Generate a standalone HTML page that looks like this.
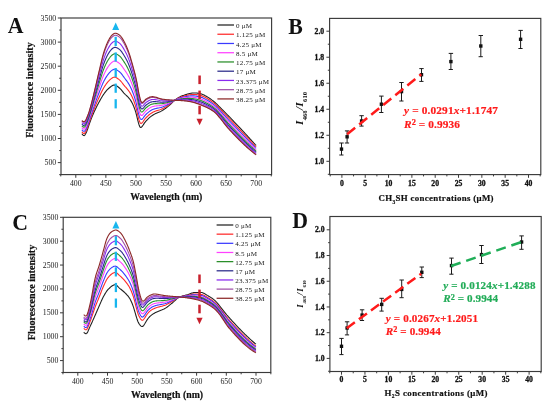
<!DOCTYPE html>
<html><head><meta charset="utf-8"><style>
html,body{margin:0;padding:0;background:#fff;width:550px;height:411px;overflow:hidden}
svg{display:block;font-family:"Liberation Serif", serif;will-change:transform}
</style></head><body>
<svg width="550" height="411" viewBox="0 0 550 411">
<text transform="translate(7.8,32.6) scale(0.95,1)" font-size="23" font-weight="bold" fill="#111">A</text>
<text transform="translate(288.2,33.6) scale(0.95,1)" font-size="23" font-weight="bold" fill="#111">B</text>
<text transform="translate(12.2,230.4) scale(0.95,1)" font-size="23" font-weight="bold" fill="#111">C</text>
<text transform="translate(292.2,228.2) scale(0.95,1)" font-size="23" font-weight="bold" fill="#111">D</text>
<polyline points="81.81,133.75 82.42,134.44 83.02,135.13 83.62,135.56 84.22,135.6 84.82,135.17 85.42,134.28 86.02,133.07 86.63,131.69 87.23,130.17 87.83,128.48 88.43,126.68 89.03,124.86 89.63,123.13 90.23,121.5 90.83,119.92 91.44,118.38 92.04,116.88 92.64,115.4 93.24,113.97 93.84,112.58 94.44,111.24 95.04,109.94 95.65,108.68 96.25,107.45 96.85,106.25 97.45,105.09 98.05,103.95 98.65,102.83 99.25,101.73 99.86,100.64 100.46,99.56 101.06,98.5 101.66,97.47 102.26,96.47 102.86,95.51 103.46,94.6 104.07,93.74 104.67,92.93 105.27,92.14 105.87,91.38 106.47,90.66 107.07,89.97 107.67,89.34 108.28,88.77 108.88,88.24 109.48,87.74 110.08,87.25 110.68,86.77 111.28,86.32 111.88,85.91 112.49,85.56 113.09,85.29 113.69,85.12 114.29,85.06 114.89,85.12 115.49,85.29 116.09,85.56 116.7,85.91 117.3,86.32 117.9,86.77 118.5,87.25 119.1,87.74 119.7,88.25 120.3,88.8 120.91,89.41 121.51,90.1 122.11,90.82 122.71,91.57 123.31,92.31 123.91,93.02 124.51,93.69 125.11,94.31 125.72,94.9 126.32,95.45 126.92,96.01 127.52,96.58 128.12,97.17 128.72,97.82 129.32,98.53 129.93,99.31 130.53,100.17 131.13,101.11 131.73,102.14 132.33,103.28 132.93,104.53 133.53,105.92 134.14,107.44 134.74,109.1 135.34,110.89 135.94,112.89 136.54,115.18 137.14,117.7 137.74,120.2 138.35,122.47 138.95,124.46 139.55,126.11 140.15,127.16 140.75,127.49 141.35,127.26 141.95,126.69 142.56,125.91 143.16,125.02 143.76,124.08 144.36,123.18 144.96,122.36 145.56,121.64 146.16,120.96 146.77,120.31 147.37,119.67 147.97,119.05 148.57,118.46 149.17,117.89 149.77,117.37 150.37,116.88 150.97,116.42 151.58,115.99 152.18,115.58 152.78,115.19 153.38,114.82 153.98,114.47 154.58,114.13 155.18,113.81 155.79,113.51 156.39,113.23 156.99,112.98 157.59,112.73 158.19,112.49 158.79,112.25 159.39,112 160,111.73 160.6,111.44 161.2,111.12 161.8,110.78 162.4,110.43 163,110.06 163.6,109.68 164.21,109.28 164.81,108.87 165.41,108.45 166.01,108.02 166.61,107.57 167.21,107.1 167.81,106.61 168.42,106.11 169.02,105.6 169.62,105.08 170.22,104.54 170.82,103.99 171.42,103.4 172.02,102.79 172.63,102.17 173.23,101.57 173.83,101.01 174.43,100.49 175.03,100.02 175.63,99.58 176.23,99.15 176.84,98.73 177.44,98.33 178.04,97.95 178.64,97.58 179.24,97.24 179.84,96.91 180.44,96.61 181.05,96.34 181.65,96.08 182.25,95.85 182.85,95.64 183.45,95.42 184.05,95.21 184.65,95 185.25,94.8 185.86,94.6 186.46,94.4 187.06,94.22 187.66,94.04 188.26,93.87 188.86,93.71 189.46,93.57 190.07,93.43 190.67,93.32 191.27,93.21 191.87,93.12 192.47,93.05 193.07,93 193.67,92.97 194.28,92.96 194.88,92.97 195.48,92.99 196.08,93.02 196.68,93.07 197.28,93.13 197.88,93.2 198.49,93.27 199.09,93.35 199.69,93.45 200.29,93.57 200.89,93.72 201.49,93.92 202.09,94.15 202.7,94.42 203.3,94.71 203.9,95.01 204.5,95.34 205.1,95.67 205.7,96.01 206.3,96.35 206.91,96.68 207.51,97.03 208.11,97.39 208.71,97.76 209.31,98.16 209.91,98.56 210.51,98.98 211.12,99.41 211.72,99.86 212.32,100.32 212.92,100.78 213.52,101.26 214.12,101.75 214.72,102.25 215.32,102.77 215.93,103.31 216.53,103.89 217.13,104.48 217.73,105.09 218.33,105.7 218.93,106.3 219.53,106.9 220.14,107.49 220.74,108.09 221.34,108.69 221.94,109.29 222.54,109.89 223.14,110.49 223.74,111.1 224.35,111.7 224.95,112.31 225.55,112.92 226.15,113.53 226.75,114.14 227.35,114.76 227.95,115.38 228.56,116 229.16,116.62 229.76,117.24 230.36,117.86 230.96,118.49 231.56,119.12 232.16,119.74 232.77,120.37 233.37,121 233.97,121.63 234.57,122.26 235.17,122.89 235.77,123.52 236.37,124.15 236.98,124.79 237.58,125.42 238.18,126.06 238.78,126.69 239.38,127.33 239.98,127.97 240.58,128.61 241.19,129.25 241.79,129.89 242.39,130.54 242.99,131.18 243.59,131.83 244.19,132.48 244.79,133.12 245.39,133.77 246,134.42 246.6,135.07 247.2,135.73 247.8,136.38 248.4,137.04 249,137.69 249.6,138.35 250.21,139.01 250.81,139.67 251.41,140.33 252.01,141 252.61,141.66 253.21,142.33 253.81,143 254.42,143.67 255.02,144.33 255.62,144.96 256.22,145.42" fill="none" stroke="#222222" stroke-width="1.1" stroke-linejoin="round"/>
<polyline points="81.81,131.75 82.42,132.39 83.02,133.04 83.62,133.43 84.22,133.46 84.82,133.05 85.42,132.18 86.02,130.99 86.63,129.63 87.23,128.13 87.83,126.47 88.43,124.69 89.03,122.88 89.63,121.11 90.23,119.41 90.83,117.75 91.44,116.1 92.04,114.47 92.64,112.85 93.24,111.26 93.84,109.71 94.44,108.18 95.04,106.69 95.65,105.23 96.25,103.79 96.85,102.38 97.45,100.99 98.05,99.63 98.65,98.29 99.25,96.96 99.86,95.65 100.46,94.35 101.06,93.06 101.66,91.8 102.26,90.57 102.86,89.41 103.46,88.31 104.07,87.28 104.67,86.31 105.27,85.38 105.87,84.49 106.47,83.64 107.07,82.84 107.67,82.1 108.28,81.43 108.88,80.81 109.48,80.22 110.08,79.65 110.68,79.11 111.28,78.61 111.88,78.16 112.49,77.78 113.09,77.48 113.69,77.27 114.29,77.17 114.89,77.19 115.49,77.33 116.09,77.57 116.7,77.89 117.3,78.28 117.9,78.71 118.5,79.17 119.1,79.64 119.7,80.14 120.3,80.69 120.91,81.31 121.51,82.01 122.11,82.76 122.71,83.54 123.31,84.33 123.91,85.1 124.51,85.83 125.11,86.54 125.72,87.22 126.32,87.9 126.92,88.58 127.52,89.29 128.12,90.03 128.72,90.83 129.32,91.7 129.93,92.65 130.53,93.68 131.13,94.79 131.73,95.99 132.33,97.27 132.93,98.66 133.53,100.17 134.14,101.8 134.74,103.55 135.34,105.44 135.94,107.52 136.54,109.88 137.14,112.48 137.74,115.13 138.35,117.58 138.95,119.75 139.55,121.56 140.15,122.81 140.75,123.39 141.35,123.39 141.95,122.99 142.56,122.32 143.16,121.5 143.76,120.62 144.36,119.75 144.96,118.95 145.56,118.25 146.16,117.61 146.77,116.99 147.37,116.4 147.97,115.83 148.57,115.27 149.17,114.75 149.77,114.27 150.37,113.82 150.97,113.41 151.58,113.03 152.18,112.68 152.78,112.35 153.38,112.05 153.98,111.76 154.58,111.5 155.18,111.25 155.79,111.02 156.39,110.81 156.99,110.62 157.59,110.44 158.19,110.27 158.79,110.1 159.39,109.91 160,109.71 160.6,109.49 161.2,109.25 161.8,108.98 162.4,108.7 163,108.4 163.6,108.09 164.21,107.77 164.81,107.43 165.41,107.09 166.01,106.73 166.61,106.36 167.21,105.97 167.81,105.57 168.42,105.16 169.02,104.73 169.62,104.3 170.22,103.85 170.82,103.39 171.42,102.9 172.02,102.39 172.63,101.87 173.23,101.37 173.83,100.9 174.43,100.47 175.03,100.07 175.63,99.7 176.23,99.34 176.84,98.99 177.44,98.66 178.04,98.34 178.64,98.03 179.24,97.74 179.84,97.47 180.44,97.22 181.05,96.99 181.65,96.78 182.25,96.59 182.85,96.41 183.45,96.23 184.05,96.06 184.65,95.89 185.25,95.73 185.86,95.57 186.46,95.42 187.06,95.28 187.66,95.14 188.26,95.01 188.86,94.9 189.46,94.79 190.07,94.69 190.67,94.61 191.27,94.54 191.87,94.49 192.47,94.45 193.07,94.43 193.67,94.42 194.28,94.44 194.88,94.47 195.48,94.52 196.08,94.58 196.68,94.65 197.28,94.73 197.88,94.82 198.49,94.92 199.09,95.02 199.69,95.14 200.29,95.27 200.89,95.44 201.49,95.64 202.09,95.88 202.7,96.14 203.3,96.42 203.9,96.72 204.5,97.04 205.1,97.36 205.7,97.69 206.3,98.02 206.91,98.35 207.51,98.69 208.11,99.04 208.71,99.41 209.31,99.78 209.91,100.18 210.51,100.59 211.12,101.01 211.72,101.44 212.32,101.89 212.92,102.34 213.52,102.81 214.12,103.29 214.72,103.79 215.32,104.31 215.93,104.85 216.53,105.44 217.13,106.04 217.73,106.66 218.33,107.29 218.93,107.91 219.53,108.52 220.14,109.14 220.74,109.76 221.34,110.38 221.94,111 222.54,111.63 223.14,112.26 223.74,112.89 224.35,113.52 224.95,114.15 225.55,114.78 226.15,115.42 226.75,116.05 227.35,116.68 227.95,117.31 228.56,117.94 229.16,118.57 229.76,119.2 230.36,119.83 230.96,120.46 231.56,121.08 232.16,121.71 232.77,122.34 233.37,122.97 233.97,123.6 234.57,124.23 235.17,124.86 235.77,125.5 236.37,126.13 236.98,126.76 237.58,127.39 238.18,128.02 238.78,128.65 239.38,129.29 239.98,129.92 240.58,130.55 241.19,131.19 241.79,131.82 242.39,132.45 242.99,133.09 243.59,133.72 244.19,134.36 244.79,134.99 245.39,135.63 246,136.26 246.6,136.9 247.2,137.53 247.8,138.17 248.4,138.8 249,139.44 249.6,140.08 250.21,140.71 250.81,141.35 251.41,141.99 252.01,142.62 252.61,143.26 253.21,143.9 253.81,144.54 254.42,145.18 255.02,145.81 255.62,146.4 256.22,146.84" fill="none" stroke="#ff2a2a" stroke-width="1.1" stroke-linejoin="round"/>
<polyline points="81.81,129.74 82.42,130.34 83.02,130.94 83.62,131.3 84.22,131.32 84.82,130.92 85.42,130.08 86.02,128.91 86.63,127.57 87.23,126.08 87.83,124.45 88.43,122.71 89.03,120.9 89.63,119.1 90.23,117.32 90.83,115.57 91.44,113.82 92.04,112.06 92.64,110.3 93.24,108.55 93.84,106.83 94.44,105.13 95.04,103.45 95.65,101.79 96.25,100.14 96.85,98.51 97.45,96.9 98.05,95.31 98.65,93.74 99.25,92.2 99.86,90.67 100.46,89.14 101.06,87.62 101.66,86.12 102.26,84.68 102.86,83.31 103.46,82.02 104.07,80.83 104.67,79.7 105.27,78.62 105.87,77.59 106.47,76.62 107.07,75.71 107.67,74.87 108.28,74.09 108.88,73.38 109.48,72.7 110.08,72.06 110.68,71.45 111.28,70.9 111.88,70.41 112.49,70 113.09,69.66 113.69,69.41 114.29,69.28 114.89,69.26 115.49,69.37 116.09,69.58 116.7,69.87 117.3,70.24 117.9,70.64 118.5,71.09 119.1,71.55 119.7,72.03 120.3,72.58 120.91,73.21 121.51,73.93 122.11,74.71 122.71,75.52 123.31,76.35 123.91,77.17 124.51,77.97 125.11,78.76 125.72,79.54 126.32,80.34 126.92,81.15 127.52,81.99 128.12,82.88 128.72,83.84 129.32,84.87 129.93,85.99 130.53,87.19 131.13,88.47 131.73,89.83 132.33,91.26 132.93,92.79 133.53,94.42 134.14,96.15 134.74,98 135.34,99.98 135.94,102.14 136.54,104.58 137.14,107.27 137.74,110.06 138.35,112.7 138.95,115.04 139.55,117.01 140.15,118.46 140.75,119.28 141.35,119.52 141.95,119.29 142.56,118.73 143.16,117.99 143.76,117.15 144.36,116.32 144.96,115.55 145.56,114.86 146.16,114.25 146.77,113.68 147.37,113.13 147.97,112.6 148.57,112.09 149.17,111.62 149.77,111.17 150.37,110.77 150.97,110.41 151.58,110.08 152.18,109.78 152.78,109.52 153.38,109.28 153.98,109.06 154.58,108.86 155.18,108.68 155.79,108.52 156.39,108.39 156.99,108.27 157.59,108.16 158.19,108.05 158.79,107.94 159.39,107.83 160,107.7 160.6,107.55 161.2,107.37 161.8,107.18 162.4,106.97 163,106.75 163.6,106.51 164.21,106.26 164.81,106 165.41,105.73 166.01,105.45 166.61,105.15 167.21,104.85 167.81,104.53 168.42,104.2 169.02,103.86 169.62,103.52 170.22,103.16 170.82,102.79 171.42,102.4 172.02,101.99 172.63,101.57 173.23,101.16 173.83,100.78 174.43,100.44 175.03,100.13 175.63,99.83 176.23,99.54 176.84,99.26 177.44,98.98 178.04,98.72 178.64,98.48 179.24,98.24 179.84,98.02 180.44,97.82 181.05,97.64 181.65,97.47 182.25,97.32 182.85,97.18 183.45,97.05 184.05,96.92 184.65,96.79 185.25,96.67 185.86,96.55 186.46,96.44 187.06,96.34 187.66,96.24 188.26,96.15 188.86,96.08 189.46,96.01 190.07,95.95 190.67,95.9 191.27,95.87 191.87,95.85 192.47,95.84 193.07,95.85 193.67,95.87 194.28,95.92 194.88,95.98 195.48,96.05 196.08,96.14 196.68,96.23 197.28,96.34 197.88,96.45 198.49,96.57 199.09,96.69 199.69,96.83 200.29,96.98 200.89,97.16 201.49,97.36 202.09,97.6 202.7,97.86 203.3,98.13 203.9,98.43 204.5,98.73 205.1,99.05 205.7,99.37 206.3,99.69 206.91,100.02 207.51,100.35 208.11,100.69 208.71,101.05 209.31,101.41 209.91,101.8 210.51,102.19 211.12,102.6 211.72,103.02 212.32,103.45 212.92,103.9 213.52,104.36 214.12,104.84 214.72,105.33 215.32,105.84 215.93,106.39 216.53,106.99 217.13,107.61 217.73,108.24 218.33,108.88 218.93,109.52 219.53,110.15 220.14,110.78 220.74,111.42 221.34,112.07 221.94,112.71 222.54,113.37 223.14,114.02 223.74,114.68 224.35,115.33 224.95,115.99 225.55,116.65 226.15,117.3 226.75,117.95 227.35,118.6 227.95,119.25 228.56,119.89 229.16,120.52 229.76,121.16 230.36,121.79 230.96,122.42 231.56,123.05 232.16,123.69 232.77,124.32 233.37,124.95 233.97,125.58 234.57,126.21 235.17,126.84 235.77,127.47 236.37,128.1 236.98,128.73 237.58,129.36 238.18,129.99 238.78,130.61 239.38,131.24 239.98,131.87 240.58,132.49 241.19,133.12 241.79,133.74 242.39,134.37 242.99,134.99 243.59,135.61 244.19,136.24 244.79,136.86 245.39,137.48 246,138.1 246.6,138.72 247.2,139.34 247.8,139.95 248.4,140.57 249,141.19 249.6,141.8 250.21,142.41 250.81,143.03 251.41,143.64 252.01,144.25 252.61,144.86 253.21,145.47 253.81,146.08 254.42,146.68 255.02,147.29 255.62,147.85 256.22,148.26" fill="none" stroke="#3a3aff" stroke-width="1.1" stroke-linejoin="round"/>
<polyline points="81.81,127.67 82.42,128.22 83.02,128.77 83.62,129.1 84.22,129.11 84.82,128.72 85.42,127.91 86.02,126.77 86.63,125.43 87.23,123.97 87.83,122.37 88.43,120.65 89.03,118.85 89.63,117.01 90.23,115.17 90.83,113.32 91.44,111.46 92.04,109.57 92.64,107.67 93.24,105.76 93.84,103.85 94.44,101.97 95.04,100.1 95.65,98.23 96.25,96.37 96.85,94.51 97.45,92.67 98.05,90.85 98.65,89.05 99.25,87.28 99.86,85.52 100.46,83.75 101.06,82 101.66,80.27 102.26,78.6 102.86,77.01 103.46,75.53 104.07,74.16 104.67,72.87 105.27,71.64 105.87,70.48 106.47,69.37 107.07,68.34 107.67,67.39 108.28,66.52 108.88,65.71 109.48,64.94 110.08,64.21 110.68,63.54 111.28,62.93 111.88,62.41 112.49,61.97 113.09,61.59 113.69,61.31 114.29,61.12 114.89,61.07 115.49,61.15 116.09,61.33 116.7,61.6 117.3,61.93 117.9,62.32 118.5,62.74 119.1,63.18 119.7,63.66 120.3,64.2 120.91,64.84 121.51,65.58 122.11,66.38 122.71,67.24 123.31,68.11 123.91,68.98 124.51,69.85 125.11,70.72 125.72,71.62 126.32,72.53 126.92,73.48 127.52,74.47 128.12,75.51 128.72,76.62 129.32,77.82 129.93,79.11 130.53,80.49 131.13,81.94 131.73,83.47 132.33,85.06 132.93,86.73 133.53,88.48 134.14,90.32 134.74,92.27 135.34,94.35 135.94,96.6 136.54,99.1 137.14,101.89 137.74,104.83 138.35,107.65 138.95,110.18 139.55,112.31 140.15,113.96 140.75,115.04 141.35,115.53 141.95,115.47 142.56,115.03 143.16,114.36 143.76,113.58 144.36,112.78 144.96,112.03 145.56,111.37 146.16,110.79 146.77,110.26 147.37,109.76 147.97,109.27 148.57,108.81 149.17,108.38 149.77,107.98 150.37,107.62 150.97,107.3 151.58,107.03 152.18,106.79 152.78,106.59 153.38,106.42 153.98,106.27 154.58,106.14 155.18,106.04 155.79,105.95 156.39,105.88 156.99,105.83 157.59,105.79 158.19,105.76 158.79,105.72 159.39,105.67 160,105.61 160.6,105.54 161.2,105.44 161.8,105.33 162.4,105.19 163,105.04 163.6,104.87 164.21,104.7 164.81,104.51 165.41,104.32 166.01,104.12 166.61,103.91 167.21,103.68 167.81,103.45 168.42,103.21 169.02,102.96 169.62,102.71 170.22,102.45 170.82,102.17 171.42,101.88 172.02,101.57 172.63,101.26 173.23,100.96 173.83,100.67 174.43,100.41 175.03,100.18 175.63,99.95 176.23,99.74 176.84,99.52 177.44,99.32 178.04,99.12 178.64,98.94 179.24,98.76 179.84,98.6 180.44,98.45 181.05,98.31 181.65,98.19 182.25,98.08 182.85,97.98 183.45,97.89 184.05,97.8 184.65,97.71 185.25,97.63 185.86,97.56 186.46,97.49 187.06,97.43 187.66,97.38 188.26,97.33 188.86,97.3 189.46,97.27 190.07,97.25 190.67,97.24 191.27,97.24 191.87,97.25 192.47,97.28 193.07,97.31 193.67,97.37 194.28,97.44 194.88,97.53 195.48,97.63 196.08,97.74 196.68,97.86 197.28,97.99 197.88,98.13 198.49,98.27 199.09,98.42 199.69,98.57 200.29,98.74 200.89,98.93 201.49,99.14 202.09,99.38 202.7,99.63 203.3,99.91 203.9,100.19 204.5,100.49 205.1,100.79 205.7,101.1 206.3,101.42 206.91,101.74 207.51,102.06 208.11,102.39 208.71,102.74 209.31,103.1 209.91,103.47 210.51,103.85 211.12,104.24 211.72,104.65 212.32,105.07 212.92,105.51 213.52,105.96 214.12,106.43 214.72,106.91 215.32,107.43 215.93,107.99 216.53,108.59 217.13,109.22 217.73,109.87 218.33,110.52 218.93,111.18 219.53,111.83 220.14,112.48 220.74,113.14 221.34,113.81 221.94,114.48 222.54,115.16 223.14,115.84 223.74,116.52 224.35,117.21 224.95,117.89 225.55,118.57 226.15,119.25 226.75,119.92 227.35,120.58 227.95,121.24 228.56,121.9 229.16,122.54 229.76,123.18 230.36,123.82 230.96,124.45 231.56,125.09 232.16,125.72 232.77,126.36 233.37,126.99 233.97,127.62 234.57,128.25 235.17,128.88 235.77,129.51 236.37,130.14 236.98,130.76 237.58,131.39 238.18,132.01 238.78,132.64 239.38,133.26 239.98,133.88 240.58,134.5 241.19,135.11 241.79,135.73 242.39,136.34 242.99,136.96 243.59,137.57 244.19,138.18 244.79,138.79 245.39,139.39 246,140 246.6,140.6 247.2,141.2 247.8,141.8 248.4,142.39 249,142.99 249.6,143.58 250.21,144.17 250.81,144.76 251.41,145.35 252.01,145.93 252.61,146.51 253.21,147.09 253.81,147.67 254.42,148.24 255.02,148.81 255.62,149.34 256.22,149.73" fill="none" stroke="#ff40ff" stroke-width="1.1" stroke-linejoin="round"/>
<polyline points="81.81,125.82 82.42,126.33 83.02,126.84 83.62,127.13 84.22,127.14 84.82,126.76 85.42,125.97 86.02,124.86 86.63,123.53 87.23,122.08 87.83,120.51 88.43,118.82 89.03,117.02 89.63,115.15 90.23,113.24 90.83,111.31 91.44,109.35 92.04,107.35 92.64,105.32 93.24,103.26 93.84,101.2 94.44,99.15 95.04,97.1 95.65,95.05 96.25,93 96.85,90.94 97.45,88.9 98.05,86.87 98.65,84.87 99.25,82.89 99.86,80.92 100.46,78.95 101.06,76.98 101.66,75.04 102.26,73.17 102.86,71.39 103.46,69.74 104.07,68.21 104.67,66.77 105.27,65.41 105.87,64.12 106.47,62.91 107.07,61.77 107.67,60.72 108.28,59.76 108.88,58.86 109.48,58.01 110.08,57.21 110.68,56.48 111.28,55.83 111.88,55.27 112.49,54.8 113.09,54.39 113.69,54.07 114.29,53.85 114.89,53.76 115.49,53.81 116.09,53.97 116.7,54.21 117.3,54.52 117.9,54.89 118.5,55.29 119.1,55.72 119.7,56.19 120.3,56.73 120.91,57.38 121.51,58.13 122.11,58.96 122.71,59.84 123.31,60.75 123.91,61.67 124.51,62.6 125.11,63.56 125.72,64.54 126.32,65.56 126.92,66.63 127.52,67.75 128.12,68.92 128.72,70.18 129.32,71.53 129.93,72.98 130.53,74.51 131.13,76.12 131.73,77.79 132.33,79.52 132.93,81.31 133.53,83.17 134.14,85.12 134.74,87.16 135.34,89.32 135.94,91.64 136.54,94.22 137.14,97.09 137.74,100.15 138.35,103.15 138.95,105.84 139.55,108.12 140.15,109.95 140.75,111.26 141.35,111.96 141.95,112.06 142.56,111.72 143.16,111.12 143.76,110.39 144.36,109.62 144.96,108.89 145.56,108.25 146.16,107.69 146.77,107.2 147.37,106.74 147.97,106.3 148.57,105.88 149.17,105.48 149.77,105.12 150.37,104.81 150.97,104.53 151.58,104.3 152.18,104.12 152.78,103.98 153.38,103.86 153.98,103.78 154.58,103.72 155.18,103.67 155.79,103.65 156.39,103.65 156.99,103.66 157.59,103.68 158.19,103.71 158.79,103.73 159.39,103.75 160,103.76 160.6,103.75 161.2,103.72 161.8,103.67 162.4,103.6 163,103.51 163.6,103.41 164.21,103.3 164.81,103.19 165.41,103.06 166.01,102.93 166.61,102.79 167.21,102.65 167.81,102.49 168.42,102.33 169.02,102.16 169.62,101.99 170.22,101.81 170.82,101.62 171.42,101.42 172.02,101.2 172.63,100.98 173.23,100.77 173.83,100.57 174.43,100.39 175.03,100.22 175.63,100.07 176.23,99.91 176.84,99.76 177.44,99.62 178.04,99.48 178.64,99.35 179.24,99.22 179.84,99.11 180.44,99.01 181.05,98.91 181.65,98.83 182.25,98.76 182.85,98.69 183.45,98.63 184.05,98.58 184.65,98.53 185.25,98.49 185.86,98.46 186.46,98.43 187.06,98.41 187.66,98.39 188.26,98.39 188.86,98.39 189.46,98.4 190.07,98.41 190.67,98.44 191.27,98.47 191.87,98.51 192.47,98.56 193.07,98.63 193.67,98.71 194.28,98.8 194.88,98.92 195.48,99.04 196.08,99.18 196.68,99.32 197.28,99.47 197.88,99.63 198.49,99.79 199.09,99.96 199.69,100.13 200.29,100.31 200.89,100.51 201.49,100.73 202.09,100.97 202.7,101.22 203.3,101.48 203.9,101.76 204.5,102.05 205.1,102.35 205.7,102.65 206.3,102.96 206.91,103.27 207.51,103.59 208.11,103.92 208.71,104.25 209.31,104.6 209.91,104.96 210.51,105.33 211.12,105.71 211.72,106.11 212.32,106.52 212.92,106.95 213.52,107.39 214.12,107.85 214.72,108.33 215.32,108.84 215.93,109.4 216.53,110.01 217.13,110.66 217.73,111.32 218.33,111.99 218.93,112.66 219.53,113.32 220.14,114 220.74,114.68 221.34,115.37 221.94,116.06 222.54,116.76 223.14,117.47 223.74,118.17 224.35,118.88 224.95,119.58 225.55,120.29 226.15,120.98 226.75,121.67 227.35,122.35 227.95,123.03 228.56,123.69 229.16,124.34 229.76,124.99 230.36,125.63 230.96,126.27 231.56,126.9 232.16,127.54 232.77,128.18 233.37,128.81 233.97,129.44 234.57,130.07 235.17,130.7 235.77,131.33 236.37,131.96 236.98,132.58 237.58,133.2 238.18,133.82 238.78,134.44 239.38,135.06 239.98,135.67 240.58,136.29 241.19,136.9 241.79,137.5 242.39,138.11 242.99,138.71 243.59,139.31 244.19,139.91 244.79,140.51 245.39,141.1 246,141.69 246.6,142.28 247.2,142.86 247.8,143.44 248.4,144.02 249,144.6 249.6,145.17 250.21,145.74 250.81,146.31 251.41,146.87 252.01,147.43 252.61,147.99 253.21,148.54 253.81,149.09 254.42,149.63 255.02,150.17 255.62,150.67 256.22,151.04" fill="none" stroke="#2a8f2a" stroke-width="1.1" stroke-linejoin="round"/>
<polyline points="81.81,124.2 82.42,124.67 83.02,125.14 83.62,125.41 84.22,125.4 84.82,125.04 85.42,124.27 86.02,123.17 86.63,121.86 87.23,120.42 87.83,118.88 88.43,117.22 89.03,115.42 89.63,113.51 90.23,111.55 90.83,109.55 91.44,107.5 92.04,105.4 92.64,103.25 93.24,101.06 93.84,98.87 94.44,96.67 95.04,94.47 95.65,92.26 96.25,90.03 96.85,87.8 97.45,85.58 98.05,83.37 98.65,81.18 99.25,79.03 99.86,76.88 100.46,74.72 101.06,72.57 101.66,70.44 102.26,68.39 102.86,66.45 103.46,64.64 104.07,62.97 104.67,61.41 105.27,59.94 105.87,58.54 106.47,57.22 107.07,55.99 107.67,54.86 108.28,53.81 108.88,52.84 109.48,51.92 110.08,51.06 110.68,50.27 111.28,49.58 111.88,48.99 112.49,48.49 113.09,48.06 113.69,47.7 114.29,47.45 114.89,47.34 115.49,47.36 116.09,47.49 116.7,47.71 117.3,48.01 117.9,48.35 118.5,48.74 119.1,49.16 119.7,49.62 120.3,50.16 120.91,50.81 121.51,51.57 122.11,52.43 122.71,53.34 123.31,54.29 123.91,55.25 124.51,56.23 125.11,57.25 125.72,58.32 126.32,59.44 126.92,60.61 127.52,61.84 128.12,63.13 128.72,64.51 129.32,65.99 129.93,67.58 130.53,69.25 131.13,71 131.73,72.8 132.33,74.66 132.93,76.56 133.53,78.51 134.14,80.54 134.74,82.66 135.34,84.9 135.94,87.29 136.54,89.92 137.14,92.86 137.74,96.05 138.35,99.19 138.95,102.02 139.55,104.43 140.15,106.43 140.75,107.93 141.35,108.82 141.95,109.07 142.56,108.81 143.16,108.27 143.76,107.58 144.36,106.84 144.96,106.13 145.56,105.5 146.16,104.97 146.77,104.52 147.37,104.09 147.97,103.69 148.57,103.3 149.17,102.94 149.77,102.62 150.37,102.33 150.97,102.1 151.58,101.91 152.18,101.77 152.78,101.68 153.38,101.62 153.98,101.59 154.58,101.58 155.18,101.6 155.79,101.63 156.39,101.68 156.99,101.75 157.59,101.83 158.19,101.91 158.79,101.99 159.39,102.06 160,102.12 160.6,102.17 161.2,102.2 161.8,102.21 162.4,102.2 163,102.17 163.6,102.13 164.21,102.08 164.81,102.02 165.41,101.96 166.01,101.89 166.61,101.82 167.21,101.74 167.81,101.65 168.42,101.56 169.02,101.46 169.62,101.35 170.22,101.25 170.82,101.13 171.42,101.01 172.02,100.88 172.63,100.74 173.23,100.6 173.83,100.48 174.43,100.37 175.03,100.26 175.63,100.17 176.23,100.07 176.84,99.98 177.44,99.88 178.04,99.79 178.64,99.71 179.24,99.63 179.84,99.56 180.44,99.5 181.05,99.44 181.65,99.39 182.25,99.35 182.85,99.32 183.45,99.29 184.05,99.27 184.65,99.26 185.25,99.25 185.86,99.25 186.46,99.25 187.06,99.27 187.66,99.29 188.26,99.31 188.86,99.35 189.46,99.39 190.07,99.43 190.67,99.48 191.27,99.54 191.87,99.61 192.47,99.69 193.07,99.78 193.67,99.88 194.28,100 194.88,100.14 195.48,100.28 196.08,100.44 196.68,100.6 197.28,100.77 197.88,100.95 198.49,101.13 199.09,101.31 199.69,101.5 200.29,101.69 200.89,101.9 201.49,102.13 202.09,102.36 202.7,102.61 203.3,102.87 203.9,103.15 204.5,103.43 205.1,103.72 205.7,104.01 206.3,104.31 206.91,104.62 207.51,104.93 208.11,105.25 208.71,105.58 209.31,105.92 209.91,106.27 210.51,106.63 211.12,107 211.72,107.39 212.32,107.79 212.92,108.21 213.52,108.64 214.12,109.1 214.72,109.58 215.32,110.09 215.93,110.65 216.53,111.27 217.13,111.92 217.73,112.6 218.33,113.28 218.93,113.96 219.53,114.64 220.14,115.33 220.74,116.03 221.34,116.73 221.94,117.45 222.54,118.17 223.14,118.9 223.74,119.62 224.35,120.35 224.95,121.07 225.55,121.79 226.15,122.51 226.75,123.22 227.35,123.91 227.95,124.6 228.56,125.27 229.16,125.92 229.76,126.57 230.36,127.22 230.96,127.86 231.56,128.5 232.16,129.14 232.77,129.78 233.37,130.41 233.97,131.04 234.57,131.68 235.17,132.31 235.77,132.93 236.37,133.56 236.98,134.18 237.58,134.8 238.18,135.42 238.78,136.03 239.38,136.64 239.98,137.25 240.58,137.86 241.19,138.46 241.79,139.06 242.39,139.66 242.99,140.26 243.59,140.85 244.19,141.44 244.79,142.02 245.39,142.6 246,143.18 246.6,143.75 247.2,144.32 247.8,144.89 248.4,145.45 249,146.01 249.6,146.57 250.21,147.12 250.81,147.67 251.41,148.21 252.01,148.75 252.61,149.28 253.21,149.81 253.81,150.34 254.42,150.86 255.02,151.37 255.62,151.84 256.22,152.2" fill="none" stroke="#2a2a8a" stroke-width="1.1" stroke-linejoin="round"/>
<polyline points="81.81,122.65 82.42,123.09 83.02,123.52 83.62,123.76 84.22,123.75 84.82,123.4 85.42,122.65 86.02,121.57 86.63,120.27 87.23,118.84 87.83,117.32 88.43,115.68 89.03,113.89 89.63,111.95 90.23,109.94 90.83,107.87 91.44,105.74 92.04,103.55 92.64,101.28 93.24,98.97 93.84,96.64 94.44,94.31 95.04,91.97 95.65,89.6 96.25,87.22 96.85,84.82 97.45,82.42 98.05,80.04 98.65,77.68 99.25,75.35 99.86,73.03 100.46,70.7 101.06,68.37 101.66,66.07 102.26,63.85 102.86,61.74 103.46,59.79 104.07,57.99 104.67,56.31 105.27,54.72 105.87,53.22 106.47,51.81 107.07,50.49 107.67,49.27 108.28,48.15 108.88,47.11 109.48,46.12 110.08,45.2 110.68,44.36 111.28,43.63 111.88,43.02 112.49,42.49 113.09,42.03 113.69,41.65 114.29,41.37 114.89,41.22 115.49,41.22 116.09,41.33 116.7,41.53 117.3,41.8 117.9,42.13 118.5,42.51 119.1,42.91 119.7,43.36 120.3,43.9 120.91,44.56 121.51,45.34 122.11,46.21 122.71,47.15 123.31,48.13 123.91,49.13 124.51,50.17 125.11,51.25 125.72,52.4 126.32,53.61 126.92,54.88 127.52,56.21 128.12,57.62 128.72,59.12 129.32,60.73 129.93,62.44 130.53,64.25 131.13,66.12 131.73,68.05 132.33,70.02 132.93,72.03 133.53,74.08 134.14,76.19 134.74,78.38 135.34,80.69 135.94,83.14 136.54,85.83 137.14,88.85 137.74,92.14 138.35,95.42 138.95,98.39 139.55,100.92 140.15,103.07 140.75,104.77 141.35,105.84 141.95,106.22 142.56,106.05 143.16,105.56 143.76,104.91 144.36,104.2 144.96,103.5 145.56,102.89 146.16,102.38 146.77,101.96 147.37,101.57 147.97,101.2 148.57,100.85 149.17,100.52 149.77,100.23 150.37,99.98 150.97,99.78 151.58,99.63 152.18,99.54 152.78,99.49 153.38,99.48 153.98,99.5 154.58,99.55 155.18,99.62 155.79,99.71 156.39,99.82 156.99,99.93 157.59,100.06 158.19,100.19 158.79,100.33 159.39,100.45 160,100.57 160.6,100.67 161.2,100.76 161.8,100.82 162.4,100.87 163,100.89 163.6,100.9 164.21,100.91 164.81,100.91 165.41,100.91 166.01,100.9 166.61,100.89 167.21,100.87 167.81,100.84 168.42,100.82 169.02,100.79 169.62,100.75 170.22,100.71 170.82,100.67 171.42,100.62 172.02,100.56 172.63,100.51 173.23,100.45 173.83,100.39 174.43,100.35 175.03,100.3 175.63,100.26 176.23,100.22 176.84,100.18 177.44,100.13 178.04,100.09 178.64,100.05 179.24,100.02 179.84,99.99 180.44,99.96 181.05,99.94 181.65,99.93 182.25,99.92 182.85,99.92 183.45,99.92 184.05,99.93 184.65,99.95 185.25,99.97 185.86,100 186.46,100.04 187.06,100.08 187.66,100.14 188.26,100.19 188.86,100.26 189.46,100.33 190.07,100.4 190.67,100.48 191.27,100.57 191.87,100.66 192.47,100.76 193.07,100.87 193.67,101 194.28,101.14 194.88,101.3 195.48,101.46 196.08,101.64 196.68,101.82 197.28,102.01 197.88,102.2 198.49,102.4 199.09,102.6 199.69,102.8 200.29,103.01 200.89,103.23 201.49,103.45 202.09,103.69 202.7,103.94 203.3,104.2 203.9,104.46 204.5,104.74 205.1,105.02 205.7,105.31 206.3,105.6 206.91,105.9 207.51,106.21 208.11,106.53 208.71,106.85 209.31,107.18 209.91,107.52 210.51,107.87 211.12,108.23 211.72,108.61 212.32,109 212.92,109.41 213.52,109.84 214.12,110.29 214.72,110.76 215.32,111.27 215.93,111.84 216.53,112.46 217.13,113.13 217.73,113.81 218.33,114.51 218.93,115.2 219.53,115.89 220.14,116.6 220.74,117.31 221.34,118.04 221.94,118.77 222.54,119.51 223.14,120.26 223.74,121 224.35,121.75 224.95,122.49 225.55,123.23 226.15,123.96 226.75,124.68 227.35,125.39 227.95,126.09 228.56,126.77 229.16,127.43 229.76,128.08 230.36,128.73 230.96,129.38 231.56,130.02 232.16,130.66 232.77,131.3 233.37,131.94 233.97,132.57 234.57,133.2 235.17,133.83 235.77,134.46 236.37,135.08 236.98,135.7 237.58,136.32 238.18,136.93 238.78,137.54 239.38,138.15 239.98,138.75 240.58,139.36 241.19,139.95 241.79,140.55 242.39,141.14 242.99,141.72 243.59,142.31 244.19,142.89 244.79,143.46 245.39,144.03 246,144.6 246.6,145.16 247.2,145.72 247.8,146.27 248.4,146.82 249,147.36 249.6,147.9 250.21,148.43 250.81,148.96 251.41,149.48 252.01,150 252.61,150.51 253.21,151.02 253.81,151.52 254.42,152.02 255.02,152.51 255.62,152.96 256.22,153.29" fill="none" stroke="#8a2af0" stroke-width="1.1" stroke-linejoin="round"/>
<polyline points="81.81,121.16 82.42,121.57 83.02,121.96 83.62,122.18 84.22,122.16 84.82,121.81 85.42,121.09 86.02,120.02 86.63,118.73 87.23,117.31 87.83,115.82 88.43,114.2 89.03,112.41 89.63,110.45 90.23,108.38 90.83,106.25 91.44,104.04 92.04,101.75 92.64,99.38 93.24,96.95 93.84,94.5 94.44,92.03 95.04,89.55 95.65,87.04 96.25,84.49 96.85,81.93 97.45,79.37 98.05,76.82 98.65,74.3 99.25,71.8 99.86,69.32 100.46,66.82 101.06,64.31 101.66,61.84 102.26,59.46 102.86,57.2 103.46,55.1 104.07,53.18 104.67,51.38 105.27,49.69 105.87,48.08 106.47,46.58 107.07,45.17 107.67,43.88 108.28,42.69 108.88,41.57 109.48,40.52 110.08,39.54 110.68,38.66 111.28,37.89 111.88,37.25 112.49,36.7 113.09,36.21 113.69,35.8 114.29,35.49 114.89,35.31 115.49,35.28 116.09,35.37 116.7,35.56 117.3,35.81 117.9,36.13 118.5,36.48 119.1,36.88 119.7,37.32 120.3,37.86 120.91,38.52 121.51,39.31 122.11,40.21 122.71,41.18 123.31,42.19 123.91,43.23 124.51,44.31 125.11,45.46 125.72,46.68 126.32,47.98 126.92,49.34 127.52,50.78 128.12,52.3 128.72,53.91 129.32,55.64 129.93,57.48 130.53,59.41 131.13,61.41 131.73,63.46 132.33,65.55 132.93,67.65 133.53,69.79 134.14,71.98 134.74,74.25 135.34,76.62 135.94,79.14 136.54,81.88 137.14,84.96 137.74,88.36 138.35,91.78 138.95,94.88 139.55,97.53 140.15,99.83 140.75,101.71 141.35,102.96 141.95,103.46 142.56,103.37 143.16,102.94 143.76,102.33 144.36,101.65 144.96,100.97 145.56,100.37 146.16,99.88 146.77,99.49 147.37,99.14 147.97,98.8 148.57,98.48 149.17,98.18 149.77,97.92 150.37,97.7 150.97,97.54 151.58,97.43 152.18,97.38 152.78,97.38 153.38,97.42 153.98,97.49 154.58,97.59 155.18,97.71 155.79,97.85 156.39,98.01 156.99,98.18 157.59,98.36 158.19,98.54 158.79,98.72 159.39,98.9 160,99.07 160.6,99.22 161.2,99.36 161.8,99.48 162.4,99.58 163,99.66 163.6,99.72 164.21,99.78 164.81,99.84 165.41,99.89 166.01,99.94 166.61,99.99 167.21,100.03 167.81,100.07 168.42,100.11 169.02,100.14 169.62,100.17 170.22,100.2 170.82,100.22 171.42,100.25 172.02,100.27 172.63,100.28 173.23,100.3 173.83,100.31 174.43,100.33 175.03,100.34 175.63,100.35 176.23,100.36 176.84,100.37 177.44,100.38 178.04,100.38 178.64,100.39 179.24,100.39 179.84,100.4 180.44,100.41 181.05,100.43 181.65,100.44 182.25,100.47 182.85,100.49 183.45,100.53 184.05,100.56 184.65,100.61 185.25,100.67 185.86,100.73 186.46,100.8 187.06,100.87 187.66,100.96 188.26,101.04 188.86,101.14 189.46,101.24 190.07,101.34 190.67,101.45 191.27,101.56 191.87,101.68 192.47,101.8 193.07,101.93 193.67,102.08 194.28,102.24 194.88,102.42 195.48,102.6 196.08,102.79 196.68,103 197.28,103.2 197.88,103.41 198.49,103.63 199.09,103.84 199.69,104.06 200.29,104.28 200.89,104.5 201.49,104.74 202.09,104.98 202.7,105.22 203.3,105.47 203.9,105.73 204.5,106 205.1,106.28 205.7,106.56 206.3,106.85 206.91,107.15 207.51,107.45 208.11,107.76 208.71,108.07 209.31,108.39 209.91,108.72 210.51,109.06 211.12,109.42 211.72,109.79 212.32,110.17 212.92,110.57 213.52,110.99 214.12,111.44 214.72,111.91 215.32,112.42 215.93,112.99 216.53,113.62 217.13,114.29 217.73,114.99 218.33,115.69 218.93,116.4 219.53,117.11 220.14,117.82 220.74,118.55 221.34,119.29 221.94,120.05 222.54,120.81 223.14,121.57 223.74,122.34 224.35,123.1 224.95,123.86 225.55,124.62 226.15,125.37 226.75,126.1 227.35,126.82 227.95,127.53 228.56,128.22 229.16,128.89 229.76,129.54 230.36,130.19 230.96,130.84 231.56,131.49 232.16,132.13 232.77,132.77 233.37,133.41 233.97,134.04 234.57,134.67 235.17,135.3 235.77,135.93 236.37,136.55 236.98,137.17 237.58,137.78 238.18,138.39 238.78,139 239.38,139.61 239.98,140.21 240.58,140.8 241.19,141.39 241.79,141.98 242.39,142.56 242.99,143.14 243.59,143.72 244.19,144.29 244.79,144.85 245.39,145.41 246,145.97 246.6,146.52 247.2,147.06 247.8,147.6 248.4,148.13 249,148.66 249.6,149.18 250.21,149.7 250.81,150.21 251.41,150.71 252.01,151.21 252.61,151.71 253.21,152.19 253.81,152.67 254.42,153.15 255.02,153.61 255.62,154.04 256.22,154.35" fill="none" stroke="#a050a8" stroke-width="1.1" stroke-linejoin="round"/>
<polyline points="81.81,120.65 82.42,121.04 83.02,121.43 83.62,121.63 84.22,121.61 84.82,121.27 85.42,120.55 86.02,119.49 86.63,118.2 87.23,116.79 87.83,115.31 88.43,113.7 89.03,111.9 89.63,109.93 90.23,107.85 90.83,105.69 91.44,103.46 92.04,101.14 92.64,98.73 93.24,96.26 93.84,93.77 94.44,91.25 95.04,88.72 95.65,86.16 96.25,83.56 96.85,80.95 97.45,78.33 98.05,75.72 98.65,73.14 99.25,70.59 99.86,68.04 100.46,65.49 101.06,62.93 101.66,60.4 102.26,57.95 102.86,55.64 103.46,53.5 104.07,51.53 104.67,49.7 105.27,47.97 105.87,46.33 106.47,44.79 107.07,43.36 107.67,42.03 108.28,40.82 108.88,39.68 109.48,38.6 110.08,37.6 110.68,36.7 111.28,35.92 111.88,35.27 112.49,34.71 113.09,34.22 113.69,33.8 114.29,33.48 114.89,33.29 115.49,33.25 116.09,33.34 116.7,33.51 117.3,33.76 117.9,34.07 118.5,34.42 119.1,34.82 119.7,35.26 120.3,35.79 120.91,36.46 121.51,37.25 122.11,38.16 122.71,39.13 123.31,40.15 123.91,41.21 124.51,42.31 125.11,43.47 125.72,44.72 126.32,46.05 126.92,47.45 127.52,48.92 128.12,50.48 128.72,52.13 129.32,53.9 129.93,55.78 130.53,57.76 131.13,59.8 131.73,61.9 132.33,64.02 132.93,66.16 133.53,68.32 134.14,70.54 134.74,72.83 135.34,75.23 135.94,77.77 136.54,80.53 137.14,83.63 137.74,87.07 138.35,90.54 138.95,93.68 139.55,96.37 140.15,98.72 140.75,100.66 141.35,101.97 141.95,102.52 142.56,102.46 143.16,102.05 143.76,101.45 144.36,100.77 144.96,100.1 145.56,99.5 146.16,99.03 146.77,98.65 147.37,98.3 147.97,97.97 148.57,97.67 149.17,97.38 149.77,97.13 150.37,96.93 150.97,96.77 151.58,96.68 152.18,96.64 152.78,96.66 153.38,96.71 153.98,96.8 154.58,96.92 155.18,97.06 155.79,97.22 156.39,97.39 156.99,97.58 157.59,97.77 158.19,97.97 158.79,98.17 159.39,98.37 160,98.55 160.6,98.73 161.2,98.88 161.8,99.02 162.4,99.14 163,99.24 163.6,99.32 164.21,99.4 164.81,99.47 165.41,99.54 166.01,99.61 166.61,99.68 167.21,99.74 167.81,99.8 168.42,99.86 169.02,99.92 169.62,99.97 170.22,100.02 170.82,100.07 171.42,100.12 172.02,100.16 172.63,100.21 173.23,100.25 173.83,100.28 174.43,100.32 175.03,100.35 175.63,100.38 176.23,100.41 176.84,100.44 177.44,100.46 178.04,100.48 178.64,100.5 179.24,100.52 179.84,100.54 180.44,100.57 181.05,100.59 181.65,100.62 182.25,100.65 182.85,100.69 183.45,100.73 184.05,100.78 184.65,100.84 185.25,100.9 185.86,100.98 186.46,101.06 187.06,101.14 187.66,101.24 188.26,101.34 188.86,101.44 189.46,101.55 190.07,101.66 190.67,101.78 191.27,101.9 191.87,102.02 192.47,102.15 193.07,102.3 193.67,102.45 194.28,102.62 194.88,102.8 195.48,102.99 196.08,103.19 196.68,103.4 197.28,103.61 197.88,103.83 198.49,104.05 199.09,104.27 199.69,104.49 200.29,104.71 200.89,104.94 201.49,105.18 202.09,105.41 202.7,105.66 203.3,105.91 203.9,106.17 204.5,106.43 205.1,106.71 205.7,106.99 206.3,107.27 206.91,107.57 207.51,107.87 208.11,108.18 208.71,108.49 209.31,108.81 209.91,109.13 210.51,109.47 211.12,109.82 211.72,110.19 212.32,110.57 212.92,110.97 213.52,111.39 214.12,111.83 214.72,112.3 215.32,112.81 215.93,113.38 216.53,114.01 217.13,114.69 217.73,115.39 218.33,116.1 218.93,116.81 219.53,117.52 220.14,118.24 220.74,118.98 221.34,119.72 221.94,120.48 222.54,121.25 223.14,122.02 223.74,122.79 224.35,123.56 224.95,124.33 225.55,125.09 226.15,125.85 226.75,126.59 227.35,127.31 227.95,128.02 228.56,128.71 229.16,129.38 229.76,130.04 230.36,130.69 230.96,131.34 231.56,131.99 232.16,132.63 232.77,133.27 233.37,133.91 233.97,134.55 234.57,135.18 235.17,135.81 235.77,136.43 236.37,137.05 236.98,137.67 237.58,138.29 238.18,138.9 238.78,139.5 239.38,140.1 239.98,140.7 240.58,141.3 241.19,141.89 241.79,142.47 242.39,143.05 242.99,143.63 243.59,144.2 244.19,144.77 244.79,145.33 245.39,145.88 246,146.43 246.6,146.98 247.2,147.52 247.8,148.05 248.4,148.58 249,149.1 249.6,149.62 250.21,150.13 250.81,150.64 251.41,151.14 252.01,151.63 252.61,152.11 253.21,152.59 253.81,153.06 254.42,153.53 255.02,153.99 255.62,154.41 256.22,154.71" fill="none" stroke="#8c2828" stroke-width="1.1" stroke-linejoin="round"/>
<line x1="115.7" y1="99.2" x2="115.7" y2="108.4" stroke="#18b6ee" stroke-width="2.3"/>
<line x1="115.7" y1="83.6" x2="115.7" y2="92.8" stroke="#18b6ee" stroke-width="2.3"/>
<line x1="115.7" y1="68" x2="115.7" y2="77.2" stroke="#18b6ee" stroke-width="2.3"/>
<line x1="115.7" y1="52.4" x2="115.7" y2="61.6" stroke="#18b6ee" stroke-width="2.3"/>
<line x1="115.7" y1="36.8" x2="115.7" y2="46" stroke="#18b6ee" stroke-width="2.3"/>
<polygon points="112.2,30.1 119.2,30.1 115.7,22.6" fill="#18b6ee"/>
<line x1="199.6" y1="75.5" x2="199.6" y2="84.1" stroke="#c8202c" stroke-width="2.5"/>
<line x1="199.6" y1="90.6" x2="199.6" y2="99.2" stroke="#c8202c" stroke-width="2.5"/>
<line x1="199.6" y1="105.7" x2="199.6" y2="114.3" stroke="#c8202c" stroke-width="2.5"/>
<polygon points="196.5,118.8 202.7,118.8 199.6,125.3" fill="#c8202c"/>
<line x1="217.4" y1="25" x2="234" y2="25" stroke="#222222" stroke-width="1.25"/>
<text x="235.9" y="28.1" font-size="7.05" letter-spacing="0.24" fill="#1a1a1a">0 μM</text>
<line x1="217.4" y1="34.24" x2="234" y2="34.24" stroke="#ff2a2a" stroke-width="1.25"/>
<text x="235.9" y="37.34" font-size="7.05" letter-spacing="0.24" fill="#1a1a1a">1.125 μM</text>
<line x1="217.4" y1="43.48" x2="234" y2="43.48" stroke="#3a3aff" stroke-width="1.25"/>
<text x="235.9" y="46.58" font-size="7.05" letter-spacing="0.24" fill="#1a1a1a">4.25 μM</text>
<line x1="217.4" y1="52.72" x2="234" y2="52.72" stroke="#ff40ff" stroke-width="1.25"/>
<text x="235.9" y="55.82" font-size="7.05" letter-spacing="0.24" fill="#1a1a1a">8.5 μM</text>
<line x1="217.4" y1="61.96" x2="234" y2="61.96" stroke="#2a8f2a" stroke-width="1.25"/>
<text x="235.9" y="65.06" font-size="7.05" letter-spacing="0.24" fill="#1a1a1a">12.75 μM</text>
<line x1="217.4" y1="71.2" x2="234" y2="71.2" stroke="#2a2a8a" stroke-width="1.25"/>
<text x="235.9" y="74.3" font-size="7.05" letter-spacing="0.24" fill="#1a1a1a">17 μM</text>
<line x1="217.4" y1="80.44" x2="234" y2="80.44" stroke="#8a2af0" stroke-width="1.25"/>
<text x="235.9" y="83.54" font-size="7.05" letter-spacing="0.24" fill="#1a1a1a">23.375 μM</text>
<line x1="217.4" y1="89.68" x2="234" y2="89.68" stroke="#a050a8" stroke-width="1.25"/>
<text x="235.9" y="92.78" font-size="7.05" letter-spacing="0.24" fill="#1a1a1a">28.75 μM</text>
<line x1="217.4" y1="98.92" x2="234" y2="98.92" stroke="#8c2828" stroke-width="1.25"/>
<text x="235.9" y="102.02" font-size="7.05" letter-spacing="0.24" fill="#1a1a1a">38.25 μM</text>
<rect x="61" y="18" width="210.6" height="156.6" fill="none" stroke="#3a3a3a" stroke-width="1.15"/>
<line x1="57.8" y1="162.6" x2="61" y2="162.6" stroke="#3a3a3a" stroke-width="1"/>
<text x="56.2" y="165.1" font-size="7.8" text-anchor="end" fill="#222">500</text>
<line x1="57.8" y1="138.5" x2="61" y2="138.5" stroke="#3a3a3a" stroke-width="1"/>
<text x="56.2" y="141" font-size="7.8" text-anchor="end" fill="#222">1000</text>
<line x1="57.8" y1="114.4" x2="61" y2="114.4" stroke="#3a3a3a" stroke-width="1"/>
<text x="56.2" y="116.9" font-size="7.8" text-anchor="end" fill="#222">1500</text>
<line x1="57.8" y1="90.3" x2="61" y2="90.3" stroke="#3a3a3a" stroke-width="1"/>
<text x="56.2" y="92.8" font-size="7.8" text-anchor="end" fill="#222">2000</text>
<line x1="57.8" y1="66.2" x2="61" y2="66.2" stroke="#3a3a3a" stroke-width="1"/>
<text x="56.2" y="68.7" font-size="7.8" text-anchor="end" fill="#222">2500</text>
<line x1="57.8" y1="42.1" x2="61" y2="42.1" stroke="#3a3a3a" stroke-width="1"/>
<text x="56.2" y="44.6" font-size="7.8" text-anchor="end" fill="#222">3000</text>
<line x1="57.8" y1="18" x2="61" y2="18" stroke="#3a3a3a" stroke-width="1"/>
<text x="56.2" y="20.5" font-size="7.8" text-anchor="end" fill="#222">3500</text>
<line x1="59.2" y1="174.65" x2="61" y2="174.65" stroke="#3a3a3a" stroke-width="1"/>
<line x1="59.2" y1="150.55" x2="61" y2="150.55" stroke="#3a3a3a" stroke-width="1"/>
<line x1="59.2" y1="126.45" x2="61" y2="126.45" stroke="#3a3a3a" stroke-width="1"/>
<line x1="59.2" y1="102.35" x2="61" y2="102.35" stroke="#3a3a3a" stroke-width="1"/>
<line x1="59.2" y1="78.25" x2="61" y2="78.25" stroke="#3a3a3a" stroke-width="1"/>
<line x1="59.2" y1="54.15" x2="61" y2="54.15" stroke="#3a3a3a" stroke-width="1"/>
<line x1="59.2" y1="30.05" x2="61" y2="30.05" stroke="#3a3a3a" stroke-width="1"/>
<line x1="75.8" y1="174.6" x2="75.8" y2="177.79999999999998" stroke="#3a3a3a" stroke-width="1"/>
<text x="75.8" y="185.9" font-size="7.8" text-anchor="middle" fill="#222">400</text>
<line x1="105.87" y1="174.6" x2="105.87" y2="177.79999999999998" stroke="#3a3a3a" stroke-width="1"/>
<text x="105.87" y="185.9" font-size="7.8" text-anchor="middle" fill="#222">450</text>
<line x1="135.94" y1="174.6" x2="135.94" y2="177.79999999999998" stroke="#3a3a3a" stroke-width="1"/>
<text x="135.94" y="185.9" font-size="7.8" text-anchor="middle" fill="#222">500</text>
<line x1="166.01" y1="174.6" x2="166.01" y2="177.79999999999998" stroke="#3a3a3a" stroke-width="1"/>
<text x="166.01" y="185.9" font-size="7.8" text-anchor="middle" fill="#222">550</text>
<line x1="196.08" y1="174.6" x2="196.08" y2="177.79999999999998" stroke="#3a3a3a" stroke-width="1"/>
<text x="196.08" y="185.9" font-size="7.8" text-anchor="middle" fill="#222">600</text>
<line x1="226.15" y1="174.6" x2="226.15" y2="177.79999999999998" stroke="#3a3a3a" stroke-width="1"/>
<text x="226.15" y="185.9" font-size="7.8" text-anchor="middle" fill="#222">650</text>
<line x1="256.22" y1="174.6" x2="256.22" y2="177.79999999999998" stroke="#3a3a3a" stroke-width="1"/>
<text x="256.22" y="185.9" font-size="7.8" text-anchor="middle" fill="#222">700</text>
<line x1="60.77" y1="174.6" x2="60.77" y2="176.4" stroke="#3a3a3a" stroke-width="1"/>
<line x1="90.83" y1="174.6" x2="90.83" y2="176.4" stroke="#3a3a3a" stroke-width="1"/>
<line x1="120.91" y1="174.6" x2="120.91" y2="176.4" stroke="#3a3a3a" stroke-width="1"/>
<line x1="150.97" y1="174.6" x2="150.97" y2="176.4" stroke="#3a3a3a" stroke-width="1"/>
<line x1="181.05" y1="174.6" x2="181.05" y2="176.4" stroke="#3a3a3a" stroke-width="1"/>
<line x1="211.12" y1="174.6" x2="211.12" y2="176.4" stroke="#3a3a3a" stroke-width="1"/>
<line x1="241.19" y1="174.6" x2="241.19" y2="176.4" stroke="#3a3a3a" stroke-width="1"/>
<line x1="271.25" y1="174.6" x2="271.25" y2="176.4" stroke="#3a3a3a" stroke-width="1"/>
<text transform="translate(32.6,90) rotate(-90)" font-size="10.1" font-weight="bold" text-anchor="middle" fill="#111" stroke="#111" stroke-width="0.2">Fluorescence intensity</text>
<text x="166.3" y="199.9" font-size="9.8" font-weight="bold" text-anchor="middle" fill="#111" stroke="#111" stroke-width="0.2">Wavelength (nm)</text>
<polyline points="83.74,332.27 84.33,332.79 84.93,333.3 85.52,333.62 86.12,333.67 86.71,333.37 87.3,332.63 87.9,331.48 88.49,330.11 89.09,328.71 89.68,327.38 90.27,326.11 90.87,324.83 91.46,323.53 92.06,322.21 92.65,320.88 93.24,319.55 93.84,318.21 94.43,316.87 95.03,315.52 95.62,314.16 96.21,312.8 96.81,311.43 97.4,310.07 98,308.71 98.59,307.36 99.18,306.01 99.78,304.64 100.37,303.27 100.97,301.89 101.56,300.53 102.15,299.22 102.75,297.97 103.34,296.8 103.94,295.7 104.53,294.66 105.12,293.64 105.72,292.67 106.31,291.75 106.91,290.9 107.5,290.13 108.09,289.45 108.69,288.84 109.28,288.28 109.88,287.73 110.47,287.2 111.06,286.69 111.66,286.22 112.25,285.79 112.85,285.42 113.44,285.12 114.03,284.89 114.63,284.75 115.22,284.73 115.82,284.87 116.41,285.19 117,285.66 117.6,286.23 118.19,286.86 118.79,287.47 119.38,288.04 119.97,288.56 120.57,289.05 121.16,289.52 121.76,290 122.35,290.48 122.94,290.98 123.54,291.48 124.13,292.01 124.73,292.57 125.32,293.15 125.91,293.75 126.51,294.36 127.1,295.01 127.7,295.69 128.29,296.42 128.88,297.21 129.48,298.08 130.07,299.06 130.67,300.16 131.26,301.41 131.85,302.78 132.45,304.26 133.04,305.87 133.64,307.65 134.23,309.6 134.82,311.66 135.42,313.72 136.01,315.72 136.61,317.67 137.2,319.55 137.79,321.24 138.39,322.6 138.98,323.64 139.58,324.5 140.17,325.25 140.76,325.86 141.36,326.3 141.95,326.53 142.55,326.45 143.14,326.02 143.73,325.33 144.33,324.48 144.92,323.55 145.52,322.53 146.11,321.49 146.7,320.51 147.3,319.61 147.89,318.78 148.49,318 149.08,317.28 149.67,316.65 150.27,316.09 150.86,315.58 151.46,315.11 152.05,314.67 152.64,314.26 153.24,313.88 153.83,313.51 154.43,313.16 155.02,312.83 155.61,312.51 156.21,312.22 156.8,311.94 157.4,311.68 157.99,311.43 158.58,311.19 159.18,310.95 159.77,310.72 160.37,310.5 160.96,310.27 161.55,310.03 162.15,309.79 162.74,309.53 163.34,309.27 163.93,308.98 164.52,308.67 165.12,308.34 165.71,307.99 166.31,307.6 166.9,307.2 167.49,306.77 168.09,306.32 168.68,305.86 169.28,305.38 169.87,304.9 170.46,304.42 171.06,303.94 171.65,303.46 172.25,302.97 172.84,302.48 173.43,301.96 174.03,301.42 174.62,300.86 175.22,300.3 175.81,299.74 176.4,299.2 177,298.69 177.59,298.21 178.19,297.78 178.78,297.41 179.37,297.09 179.97,296.83 180.56,296.6 181.16,296.4 181.75,296.21 182.34,296.03 182.94,295.87 183.53,295.72 184.13,295.57 184.72,295.43 185.31,295.29 185.91,295.14 186.5,294.99 187.1,294.83 187.69,294.66 188.28,294.47 188.88,294.26 189.47,294.04 190.07,293.81 190.66,293.57 191.25,293.35 191.85,293.13 192.44,292.94 193.04,292.77 193.63,292.64 194.22,292.54 194.82,292.5 195.41,292.48 196.01,292.47 196.6,292.47 197.19,292.47 197.79,292.47 198.38,292.47 198.98,292.47 199.57,292.47 200.16,292.47 200.76,292.48 201.35,292.5 201.95,292.56 202.54,292.7 203.13,292.9 203.73,293.17 204.32,293.49 204.92,293.85 205.51,294.22 206.1,294.61 206.7,295 207.29,295.37 207.89,295.72 208.48,296.07 209.07,296.42 209.67,296.77 210.26,297.14 210.86,297.51 211.45,297.9 212.04,298.3 212.64,298.72 213.23,299.16 213.83,299.61 214.42,300.1 215.01,300.62 215.61,301.19 216.2,301.81 216.8,302.49 217.39,303.21 217.98,303.95 218.58,304.7 219.17,305.45 219.77,306.18 220.36,306.9 220.95,307.63 221.55,308.36 222.14,309.1 222.74,309.85 223.33,310.59 223.92,311.34 224.52,312.08 225.11,312.82 225.71,313.56 226.3,314.28 226.89,315 227.49,315.7 228.08,316.39 228.68,317.07 229.27,317.73 229.86,318.39 230.46,319.05 231.05,319.71 231.65,320.36 232.24,321.01 232.83,321.66 233.43,322.31 234.02,322.96 234.62,323.6 235.21,324.24 235.8,324.87 236.4,325.51 236.99,326.14 237.59,326.77 238.18,327.39 238.77,328.01 239.37,328.63 239.96,329.25 240.56,329.86 241.15,330.47 241.74,331.07 242.34,331.67 242.93,332.27 243.53,332.86 244.12,333.45 244.71,334.04 245.31,334.62 245.9,335.2 246.5,335.77 247.09,336.34 247.68,336.9 248.28,337.46 248.87,338.02 249.47,338.57 250.06,339.11 250.65,339.66 251.25,340.19 251.84,340.72 252.44,341.25 253.03,341.77 253.62,342.28 254.22,342.79 254.81,343.29 255.41,343.76 256,344.1" fill="none" stroke="#222222" stroke-width="1.1" stroke-linejoin="round"/>
<polyline points="83.74,328.42 84.33,328.94 84.93,329.45 85.52,329.76 86.12,329.79 86.71,329.43 87.3,328.6 87.9,327.33 88.49,325.8 89.09,324.2 89.68,322.62 90.27,321.08 90.87,319.5 91.46,317.84 92.06,316.1 92.65,314.32 93.24,312.53 93.84,310.75 94.43,309.03 95.03,307.38 95.62,305.81 96.21,304.29 96.81,302.82 97.4,301.38 98,299.94 98.59,298.5 99.18,297.04 99.78,295.53 100.37,294 100.97,292.45 101.56,290.92 102.15,289.41 102.75,287.96 103.34,286.57 103.94,285.22 104.53,283.91 105.12,282.62 105.72,281.39 106.31,280.25 106.91,279.22 107.5,278.32 108.09,277.53 108.69,276.82 109.28,276.18 109.88,275.58 110.47,275.01 111.06,274.49 111.66,274.02 112.25,273.59 112.85,273.22 113.44,272.9 114.03,272.65 114.63,272.49 115.22,272.44 115.82,272.53 116.41,272.79 117,273.19 117.6,273.7 118.19,274.27 118.79,274.85 119.38,275.4 119.97,275.92 120.57,276.43 121.16,276.94 121.76,277.48 122.35,278.05 122.94,278.66 123.54,279.29 124.13,279.95 124.73,280.64 125.32,281.35 125.91,282.08 126.51,282.84 127.1,283.64 127.7,284.48 128.29,285.37 128.88,286.32 129.48,287.34 130.07,288.44 130.67,289.66 131.26,290.98 131.85,292.43 132.45,293.99 133.04,295.7 133.64,297.6 134.23,299.72 134.82,301.97 135.42,304.27 136.01,306.55 136.61,308.8 137.2,311.04 137.79,313.03 138.39,314.72 138.98,316.07 139.58,317.22 140.17,318.24 140.76,319.12 141.36,319.79 141.95,320.2 142.55,320.25 143.14,319.91 143.73,319.27 144.33,318.47 144.92,317.61 145.52,316.67 146.11,315.71 146.7,314.81 147.3,313.99 147.89,313.24 148.49,312.56 149.08,311.93 149.67,311.38 150.27,310.87 150.86,310.42 151.46,310 152.05,309.61 152.64,309.26 153.24,308.94 153.83,308.64 154.43,308.38 155.02,308.13 155.61,307.9 156.21,307.69 156.8,307.5 157.4,307.33 157.99,307.16 158.58,307.01 159.18,306.86 159.77,306.72 160.37,306.58 160.96,306.43 161.55,306.29 162.15,306.13 162.74,305.97 163.34,305.79 163.93,305.6 164.52,305.4 165.12,305.17 165.71,304.92 166.31,304.65 166.9,304.36 167.49,304.05 168.09,303.73 168.68,303.4 169.28,303.06 169.87,302.71 170.46,302.37 171.06,302.02 171.65,301.68 172.25,301.34 172.84,300.98 173.43,300.61 174.03,300.21 174.62,299.81 175.22,299.4 175.81,298.99 176.4,298.6 177,298.22 177.59,297.88 178.19,297.56 178.78,297.29 179.37,297.07 179.97,296.88 180.56,296.72 181.16,296.58 181.75,296.45 182.34,296.33 182.94,296.22 183.53,296.12 184.13,296.02 184.72,295.92 185.31,295.83 185.91,295.73 186.5,295.63 187.1,295.52 187.69,295.41 188.28,295.28 188.88,295.14 189.47,294.98 190.07,294.82 190.66,294.66 191.25,294.51 191.85,294.37 192.44,294.24 193.04,294.14 193.63,294.07 194.22,294.03 194.82,294.02 195.41,294.04 196.01,294.07 196.6,294.1 197.19,294.13 197.79,294.17 198.38,294.2 198.98,294.24 199.57,294.28 200.16,294.33 200.76,294.38 201.35,294.44 201.95,294.54 202.54,294.7 203.13,294.92 203.73,295.19 204.32,295.51 204.92,295.85 205.51,296.22 206.1,296.59 206.7,296.96 207.29,297.33 207.89,297.68 208.48,298.03 209.07,298.38 209.67,298.73 210.26,299.1 210.86,299.47 211.45,299.86 212.04,300.26 212.64,300.68 213.23,301.12 213.83,301.58 214.42,302.07 215.01,302.58 215.61,303.15 216.2,303.77 216.8,304.44 217.39,305.15 217.98,305.88 218.58,306.62 219.17,307.37 219.77,308.1 220.36,308.84 220.95,309.59 221.55,310.35 222.14,311.12 222.74,311.9 223.33,312.68 223.92,313.47 224.52,314.26 225.11,315.04 225.71,315.81 226.3,316.57 226.89,317.31 227.49,318.04 228.08,318.75 228.68,319.44 229.27,320.11 229.86,320.78 230.46,321.45 231.05,322.11 231.65,322.77 232.24,323.43 232.83,324.08 233.43,324.73 234.02,325.38 234.62,326.03 235.21,326.67 235.8,327.31 236.4,327.95 236.99,328.58 237.59,329.21 238.18,329.83 238.77,330.45 239.37,331.07 239.96,331.68 240.56,332.29 241.15,332.9 241.74,333.5 242.34,334.09 242.93,334.68 243.53,335.26 244.12,335.84 244.71,336.42 245.31,336.99 245.9,337.55 246.5,338.11 247.09,338.67 247.68,339.21 248.28,339.75 248.87,340.29 249.47,340.82 250.06,341.34 250.65,341.86 251.25,342.37 251.84,342.87 252.44,343.37 253.03,343.86 253.62,344.34 254.22,344.82 254.81,345.28 255.41,345.71 256,346.03" fill="none" stroke="#ff2a2a" stroke-width="1.1" stroke-linejoin="round"/>
<polyline points="83.74,326.17 84.33,326.7 84.93,327.22 85.52,327.52 86.12,327.54 86.71,327.16 87.3,326.28 87.9,324.95 88.49,323.34 89.09,321.62 89.68,319.91 90.27,318.22 90.87,316.48 91.46,314.62 92.06,312.66 92.65,310.63 93.24,308.59 93.84,306.58 94.43,304.66 95.03,302.84 95.62,301.16 96.21,299.57 96.81,298.06 97.4,296.58 98,295.11 98.59,293.63 99.18,292.12 99.78,290.55 100.37,288.95 100.97,287.32 101.56,285.69 102.15,284.1 102.75,282.55 103.34,281.05 103.94,279.59 104.53,278.14 105.12,276.72 105.72,275.36 106.31,274.12 106.91,273.01 107.5,272.06 108.09,271.22 108.69,270.49 109.28,269.81 109.88,269.19 110.47,268.63 111.06,268.12 111.66,267.66 112.25,267.25 112.85,266.89 113.44,266.58 114.03,266.34 114.63,266.18 115.22,266.13 115.82,266.21 116.41,266.45 117,266.82 117.6,267.3 118.19,267.84 118.79,268.39 119.38,268.94 119.97,269.46 120.57,269.98 121.16,270.51 121.76,271.09 122.35,271.7 122.94,272.36 123.54,273.06 124.13,273.78 124.73,274.54 125.32,275.31 125.91,276.12 126.51,276.95 127.1,277.83 127.7,278.75 128.29,279.73 128.88,280.76 129.48,281.85 130.07,283.02 130.67,284.28 131.26,285.66 131.85,287.14 132.45,288.74 133.04,290.5 133.64,292.47 134.23,294.66 134.82,297.02 135.42,299.45 136.01,301.86 136.61,304.27 137.2,306.68 137.79,308.85 138.39,310.7 138.98,312.22 139.58,313.52 140.17,314.69 140.76,315.71 141.36,316.51 141.95,317.01 142.55,317.13 143.14,316.84 143.73,316.24 144.33,315.46 144.92,314.64 145.52,313.74 146.11,312.82 146.7,311.95 147.3,311.17 147.89,310.47 148.49,309.84 149.08,309.26 149.67,308.74 150.27,308.27 150.86,307.84 151.46,307.44 152.05,307.08 152.64,306.76 153.24,306.47 153.83,306.21 154.43,305.98 155.02,305.78 155.61,305.6 156.21,305.43 156.8,305.28 157.4,305.15 157.99,305.03 158.58,304.92 159.18,304.81 159.77,304.71 160.37,304.62 160.96,304.52 161.55,304.41 162.15,304.3 162.74,304.19 163.34,304.06 163.93,303.92 164.52,303.76 165.12,303.58 165.71,303.38 166.31,303.17 166.9,302.94 167.49,302.69 168.09,302.43 168.68,302.17 169.28,301.89 169.87,301.61 170.46,301.34 171.06,301.07 171.65,300.79 172.25,300.51 172.84,300.23 173.43,299.93 174.03,299.61 174.62,299.28 175.22,298.95 175.81,298.62 176.4,298.3 177,297.99 177.59,297.71 178.19,297.45 178.78,297.24 179.37,297.06 179.97,296.91 180.56,296.79 181.16,296.68 181.75,296.57 182.34,296.48 182.94,296.4 183.53,296.32 184.13,296.24 184.72,296.17 185.31,296.1 185.91,296.03 186.5,295.95 187.1,295.87 187.69,295.79 188.28,295.69 188.88,295.58 189.47,295.46 190.07,295.34 190.66,295.22 191.25,295.1 191.85,295 192.44,294.91 193.04,294.84 193.63,294.8 194.22,294.78 194.82,294.8 195.41,294.83 196.01,294.88 196.6,294.93 197.19,294.98 197.79,295.03 198.38,295.09 198.98,295.15 199.57,295.21 200.16,295.28 200.76,295.35 201.35,295.43 201.95,295.55 202.54,295.73 203.13,295.95 203.73,296.23 204.32,296.54 204.92,296.88 205.51,297.23 206.1,297.6 206.7,297.97 207.29,298.33 207.89,298.68 208.48,299.03 209.07,299.38 209.67,299.74 210.26,300.1 210.86,300.48 211.45,300.86 212.04,301.27 212.64,301.69 213.23,302.13 213.83,302.59 214.42,303.07 215.01,303.59 215.61,304.15 216.2,304.77 216.8,305.43 217.39,306.14 217.98,306.87 218.58,307.61 219.17,308.35 219.77,309.09 220.36,309.83 220.95,310.59 221.55,311.36 222.14,312.15 222.74,312.95 223.33,313.75 223.92,314.56 224.52,315.37 225.11,316.17 225.71,316.96 226.3,317.74 226.89,318.5 227.49,319.24 228.08,319.96 228.68,320.65 229.27,321.33 229.86,322 230.46,322.67 231.05,323.34 231.65,324 232.24,324.66 232.83,325.32 233.43,325.97 234.02,326.62 234.62,327.27 235.21,327.92 235.8,328.56 236.4,329.19 236.99,329.83 237.59,330.46 238.18,331.08 238.77,331.7 239.37,332.32 239.96,332.93 240.56,333.53 241.15,334.14 241.74,334.73 242.34,335.32 242.93,335.91 243.53,336.49 244.12,337.07 244.71,337.64 245.31,338.2 245.9,338.76 246.5,339.31 247.09,339.85 247.68,340.39 248.28,340.92 248.87,341.45 249.47,341.97 250.06,342.48 250.65,342.98 251.25,343.48 251.84,343.97 252.44,344.45 253.03,344.93 253.62,345.39 254.22,345.85 254.81,346.3 255.41,346.71 256,347.01" fill="none" stroke="#3a3aff" stroke-width="1.1" stroke-linejoin="round"/>
<polyline points="83.74,323.96 84.33,324.49 84.93,325.01 85.52,325.3 86.12,325.3 86.71,324.88 87.3,323.95 87.9,322.55 88.49,320.84 89.09,318.99 89.68,317.14 90.27,315.29 90.87,313.36 91.46,311.29 92.06,309.07 92.65,306.77 93.24,304.46 93.84,302.19 94.43,300.04 95.03,298.04 95.62,296.21 96.21,294.53 96.81,292.95 97.4,291.41 98,289.89 98.59,288.35 99.18,286.76 99.78,285.11 100.37,283.4 100.97,281.66 101.56,279.92 102.15,278.2 102.75,276.52 103.34,274.88 103.94,273.26 104.53,271.64 105.12,270.04 105.72,268.52 106.31,267.13 106.91,265.91 107.5,264.86 108.09,263.95 108.69,263.14 109.28,262.41 109.88,261.75 110.47,261.15 111.06,260.62 111.66,260.16 112.25,259.73 112.85,259.36 113.44,259.03 114.03,258.77 114.63,258.59 115.22,258.51 115.82,258.55 116.41,258.73 117,259.07 117.6,259.5 118.19,260.01 118.79,260.54 119.38,261.07 119.97,261.6 120.57,262.12 121.16,262.68 121.76,263.3 122.35,263.97 122.94,264.7 123.54,265.47 124.13,266.28 124.73,267.11 125.32,267.97 125.91,268.86 126.51,269.79 127.1,270.76 127.7,271.78 128.29,272.85 128.88,273.98 129.48,275.16 130.07,276.41 130.67,277.75 131.26,279.17 131.85,280.7 132.45,282.35 133.04,284.17 133.64,286.21 134.23,288.51 134.82,291 135.42,293.57 136.01,296.16 136.61,298.76 137.2,301.38 137.79,303.83 138.39,305.97 138.98,307.76 139.58,309.3 140.17,310.71 140.76,311.95 141.36,312.95 141.95,313.61 142.55,313.85 143.14,313.66 143.73,313.15 144.33,312.46 144.92,311.68 145.52,310.82 146.11,309.93 146.7,309.1 147.3,308.36 147.89,307.7 148.49,307.12 149.08,306.59 149.67,306.1 150.27,305.66 150.86,305.25 151.46,304.88 152.05,304.55 152.64,304.25 153.24,304 153.83,303.78 154.43,303.59 155.02,303.43 155.61,303.29 156.21,303.17 156.8,303.07 157.4,302.98 157.99,302.9 158.58,302.83 159.18,302.77 159.77,302.71 160.37,302.65 160.96,302.6 161.55,302.54 162.15,302.48 162.74,302.4 163.34,302.32 163.93,302.23 164.52,302.12 165.12,301.99 165.71,301.85 166.31,301.69 166.9,301.52 167.49,301.33 168.09,301.14 168.68,300.94 169.28,300.73 169.87,300.52 170.46,300.31 171.06,300.1 171.65,299.89 172.25,299.67 172.84,299.46 173.43,299.22 174.03,298.98 174.62,298.73 175.22,298.47 175.81,298.22 176.4,297.97 177,297.74 177.59,297.53 178.19,297.34 178.78,297.18 179.37,297.05 179.97,296.94 180.56,296.86 181.16,296.78 181.75,296.71 182.34,296.65 182.94,296.6 183.53,296.55 184.13,296.5 184.72,296.46 185.31,296.42 185.91,296.38 186.5,296.33 187.1,296.29 187.69,296.24 188.28,296.18 188.88,296.11 189.47,296.04 190.07,295.97 190.66,295.89 191.25,295.83 191.85,295.77 192.44,295.73 193.04,295.7 193.63,295.69 194.22,295.71 194.82,295.74 195.41,295.8 196.01,295.87 196.6,295.94 197.19,296.01 197.79,296.09 198.38,296.17 198.98,296.25 199.57,296.34 200.16,296.43 200.76,296.53 201.35,296.64 201.95,296.78 202.54,296.97 203.13,297.21 203.73,297.48 204.32,297.79 204.92,298.12 205.51,298.47 206.1,298.83 206.7,299.19 207.29,299.55 207.89,299.9 208.48,300.25 209.07,300.6 209.67,300.95 210.26,301.32 210.86,301.7 211.45,302.09 212.04,302.49 212.64,302.91 213.23,303.35 213.83,303.81 214.42,304.3 215.01,304.81 215.61,305.37 216.2,305.98 216.8,306.64 217.39,307.34 217.98,308.07 218.58,308.8 219.17,309.55 219.77,310.29 220.36,311.04 220.95,311.81 221.55,312.6 222.14,313.41 222.74,314.23 223.33,315.05 223.92,315.89 224.52,316.72 225.11,317.54 225.71,318.36 226.3,319.16 226.89,319.94 227.49,320.7 228.08,321.42 228.68,322.13 229.27,322.81 229.86,323.49 230.46,324.16 231.05,324.83 231.65,325.5 232.24,326.16 232.83,326.82 233.43,327.48 234.02,328.13 234.62,328.78 235.21,329.43 235.8,330.07 236.4,330.71 236.99,331.34 237.59,331.97 238.18,332.6 238.77,333.22 239.37,333.83 239.96,334.44 240.56,335.05 241.15,335.65 241.74,336.24 242.34,336.83 242.93,337.41 243.53,337.98 244.12,338.55 244.71,339.12 245.31,339.67 245.9,340.22 246.5,340.77 247.09,341.3 247.68,341.83 248.28,342.35 248.87,342.86 249.47,343.37 250.06,343.87 250.65,344.36 251.25,344.84 251.84,345.31 252.44,345.77 253.03,346.23 253.62,346.68 254.22,347.11 254.81,347.54 255.41,347.93 256,348.21" fill="none" stroke="#ff40ff" stroke-width="1.1" stroke-linejoin="round"/>
<polyline points="83.74,321.91 84.33,322.45 84.93,322.97 85.52,323.26 86.12,323.25 86.71,322.82 87.3,321.85 87.9,320.39 88.49,318.6 89.09,316.66 89.68,314.68 90.27,312.7 90.87,310.63 91.46,308.38 92.06,305.96 92.65,303.44 93.24,300.91 93.84,298.43 94.43,296.1 95.03,293.96 95.62,292.04 96.21,290.29 96.81,288.67 97.4,287.11 98,285.57 98.59,284 99.18,282.37 99.78,280.66 100.37,278.89 100.97,277.08 101.56,275.27 102.15,273.47 102.75,271.71 103.34,269.98 103.94,268.26 104.53,266.52 105.12,264.81 105.72,263.19 106.31,261.71 106.91,260.42 107.5,259.34 108.09,258.4 108.69,257.56 109.28,256.81 109.88,256.14 110.47,255.54 111.06,255.03 111.66,254.58 112.25,254.18 112.85,253.82 113.44,253.51 114.03,253.26 114.63,253.09 115.22,253.01 115.82,253.05 116.41,253.22 117,253.53 117.6,253.93 118.19,254.41 118.79,254.93 119.38,255.45 119.97,255.98 120.57,256.51 121.16,257.09 121.76,257.73 122.35,258.45 122.94,259.22 123.54,260.05 124.13,260.91 124.73,261.81 125.32,262.73 125.91,263.68 126.51,264.67 127.1,265.71 127.7,266.8 128.29,267.94 128.88,269.14 129.48,270.39 130.07,271.7 130.67,273.08 131.26,274.54 131.85,276.1 132.45,277.79 133.04,279.65 133.64,281.75 134.23,284.12 134.82,286.69 135.42,289.37 136.01,292.08 136.61,294.82 137.2,297.59 137.79,300.14 138.39,302.39 138.98,304.28 139.58,305.92 140.17,307.42 140.76,308.75 141.36,309.83 141.95,310.55 142.55,310.83 143.14,310.66 143.73,310.15 144.33,309.45 144.92,308.71 145.52,307.89 146.11,307.04 146.7,306.25 147.3,305.54 147.89,304.93 148.49,304.4 149.08,303.91 149.67,303.46 150.27,303.05 150.86,302.67 151.46,302.33 152.05,302.02 152.64,301.75 153.24,301.52 153.83,301.34 154.43,301.2 155.02,301.08 155.61,300.99 156.21,300.91 156.8,300.85 157.4,300.8 157.99,300.77 158.58,300.74 159.18,300.72 159.77,300.71 160.37,300.69 160.96,300.68 161.55,300.67 162.15,300.65 162.74,300.62 163.34,300.59 163.93,300.54 164.52,300.48 165.12,300.4 165.71,300.31 166.31,300.21 166.9,300.1 167.49,299.97 168.09,299.84 168.68,299.71 169.28,299.57 169.87,299.42 170.46,299.28 171.06,299.15 171.65,299.01 172.25,298.87 172.84,298.72 173.43,298.56 174.03,298.39 174.62,298.21 175.22,298.03 175.81,297.86 176.4,297.68 177,297.52 177.59,297.37 178.19,297.23 178.78,297.12 179.37,297.04 179.97,296.97 180.56,296.91 181.16,296.87 181.75,296.83 182.34,296.79 182.94,296.76 183.53,296.73 184.13,296.71 184.72,296.69 185.31,296.67 185.91,296.65 186.5,296.62 187.1,296.6 187.69,296.57 188.28,296.54 188.88,296.5 189.47,296.46 190.07,296.42 190.66,296.38 191.25,296.34 191.85,296.32 192.44,296.31 193.04,296.31 193.63,296.33 194.22,296.36 194.82,296.42 195.41,296.49 196.01,296.57 196.6,296.66 197.19,296.75 197.79,296.84 198.38,296.94 198.98,297.04 199.57,297.14 200.16,297.25 200.76,297.37 201.35,297.5 201.95,297.66 202.54,297.86 203.13,298.1 203.73,298.38 204.32,298.69 204.92,299.01 205.51,299.36 206.1,299.71 206.7,300.07 207.29,300.42 207.89,300.77 208.48,301.12 209.07,301.47 209.67,301.83 210.26,302.19 210.86,302.57 211.45,302.96 212.04,303.36 212.64,303.79 213.23,304.23 213.83,304.69 214.42,305.17 215.01,305.69 215.61,306.24 216.2,306.85 216.8,307.51 217.39,308.2 217.98,308.92 218.58,309.66 219.17,310.4 219.77,311.14 220.36,311.9 220.95,312.68 221.55,313.48 222.14,314.3 222.74,315.14 223.33,315.98 223.92,316.83 224.52,317.68 225.11,318.53 225.71,319.36 226.3,320.17 226.89,320.97 227.49,321.74 228.08,322.47 228.68,323.18 229.27,323.87 229.86,324.55 230.46,325.23 231.05,325.9 231.65,326.57 232.24,327.23 232.83,327.9 233.43,328.56 234.02,329.21 234.62,329.86 235.21,330.51 235.8,331.15 236.4,331.79 236.99,332.43 237.59,333.06 238.18,333.68 238.77,334.3 239.37,334.92 239.96,335.53 240.56,336.13 241.15,336.73 241.74,337.32 242.34,337.9 242.93,338.48 243.53,339.05 244.12,339.62 244.71,340.17 245.31,340.73 245.9,341.27 246.5,341.81 247.09,342.33 247.68,342.85 248.28,343.37 248.87,343.87 249.47,344.37 250.06,344.86 250.65,345.33 251.25,345.8 251.84,346.26 252.44,346.72 253.03,347.16 253.62,347.59 254.22,348.01 254.81,348.42 255.41,348.8 256,349.07" fill="none" stroke="#2a8f2a" stroke-width="1.1" stroke-linejoin="round"/>
<polyline points="83.74,320.48 84.33,321.01 84.93,321.53 85.52,321.81 86.12,321.79 86.71,321.32 87.3,320.32 87.9,318.81 88.49,316.95 89.09,314.92 89.68,312.85 90.27,310.76 90.87,308.56 91.46,306.16 92.06,303.57 92.65,300.87 93.24,298.15 93.84,295.49 94.43,292.99 95.03,290.73 95.62,288.71 96.21,286.89 96.81,285.21 97.4,283.61 98,282.03 98.59,280.41 99.18,278.72 99.78,276.94 100.37,275.1 100.97,273.21 101.56,271.31 102.15,269.42 102.75,267.56 103.34,265.73 103.94,263.89 104.53,262.02 105.12,260.19 105.72,258.44 106.31,256.85 106.91,255.48 107.5,254.32 108.09,253.32 108.69,252.42 109.28,251.62 109.88,250.91 110.47,250.28 111.06,249.75 111.66,249.28 112.25,248.87 112.85,248.49 113.44,248.16 114.03,247.89 114.63,247.69 115.22,247.58 115.82,247.58 116.41,247.71 117,247.98 117.6,248.36 118.19,248.82 118.79,249.32 119.38,249.84 119.97,250.36 120.57,250.91 121.16,251.5 121.76,252.17 122.35,252.92 122.94,253.75 123.54,254.63 124.13,255.55 124.73,256.5 125.32,257.48 125.91,258.49 126.51,259.55 127.1,260.65 127.7,261.82 128.29,263.03 128.88,264.3 129.48,265.61 130.07,266.98 130.67,268.41 131.26,269.9 131.85,271.5 132.45,273.22 133.04,275.13 133.64,277.28 134.23,279.72 134.82,282.39 135.42,285.18 136.01,288.01 136.61,290.88 137.2,293.81 137.79,296.39 138.39,298.69 138.98,300.63 139.58,302.33 140.17,303.88 140.76,305.28 141.36,306.4 141.95,307.15 142.55,307.42 143.14,307.23 143.73,306.7 144.33,305.96 144.92,305.27 145.52,304.49 146.11,303.69 146.7,302.94 147.3,302.28 147.89,301.72 148.49,301.24 149.08,300.81 149.67,300.4 150.27,300.03 150.86,299.68 151.46,299.36 152.05,299.08 152.64,298.85 153.24,298.66 153.83,298.52 154.43,298.42 155.02,298.36 155.61,298.31 156.21,298.29 156.8,298.28 157.4,298.28 157.99,298.29 158.58,298.32 159.18,298.35 159.77,298.38 160.37,298.42 160.96,298.46 161.55,298.5 162.15,298.53 162.74,298.55 163.34,298.57 163.93,298.58 164.52,298.58 165.12,298.56 165.71,298.53 166.31,298.49 166.9,298.45 167.49,298.4 168.09,298.34 168.68,298.28 169.28,298.22 169.87,298.15 170.46,298.1 171.06,298.05 171.65,298 172.25,297.94 172.84,297.87 173.43,297.8 174.03,297.72 174.62,297.63 175.22,297.54 175.81,297.45 176.4,297.36 177,297.27 177.59,297.19 178.19,297.12 178.78,297.06 179.37,297.02 179.97,297 180.56,296.98 181.16,296.96 181.75,296.95 182.34,296.94 182.94,296.93 183.53,296.93 184.13,296.93 184.72,296.93 185.31,296.93 185.91,296.93 186.5,296.93 187.1,296.92 187.69,296.92 188.28,296.91 188.88,296.9 189.47,296.89 190.07,296.87 190.66,296.86 191.25,296.86 191.85,296.87 192.44,296.89 193.04,296.92 193.63,296.96 194.22,297.02 194.82,297.1 195.41,297.19 196.01,297.28 196.6,297.38 197.19,297.48 197.79,297.59 198.38,297.7 198.98,297.82 199.57,297.95 200.16,298.08 200.76,298.21 201.35,298.37 201.95,298.54 202.54,298.75 203.13,299 203.73,299.28 204.32,299.58 204.92,299.91 205.51,300.24 206.1,300.59 206.7,300.94 207.29,301.29 207.89,301.64 208.48,301.99 209.07,302.34 209.67,302.7 210.26,303.06 210.86,303.44 211.45,303.83 212.04,304.24 212.64,304.66 213.23,305.1 213.83,305.56 214.42,306.04 215.01,306.56 215.61,307.12 216.2,307.72 216.8,308.37 217.39,309.06 217.98,309.78 218.58,310.51 219.17,311.25 219.77,312 220.36,312.76 220.95,313.55 221.55,314.36 222.14,315.2 222.74,316.05 223.33,316.91 223.92,317.78 224.52,318.65 225.11,319.51 225.71,320.36 226.3,321.19 226.89,322 227.49,322.78 228.08,323.52 228.68,324.24 229.27,324.93 229.86,325.61 230.46,326.29 231.05,326.96 231.65,327.64 232.24,328.31 232.83,328.97 233.43,329.63 234.02,330.29 234.62,330.94 235.21,331.59 235.8,332.24 236.4,332.88 236.99,333.51 237.59,334.14 238.18,334.77 238.77,335.39 239.37,336 239.96,336.61 240.56,337.21 241.15,337.8 241.74,338.39 242.34,338.97 242.93,339.55 243.53,340.12 244.12,340.68 244.71,341.23 245.31,341.78 245.9,342.32 246.5,342.85 247.09,343.37 247.68,343.88 248.28,344.39 248.87,344.88 249.47,345.37 250.06,345.85 250.65,346.31 251.25,346.77 251.84,347.22 252.44,347.66 253.03,348.09 253.62,348.51 254.22,348.91 254.81,349.31 255.41,349.67 256,349.93" fill="none" stroke="#2a2a8a" stroke-width="1.1" stroke-linejoin="round"/>
<polyline points="83.74,318.44 84.33,318.98 84.93,319.5 85.52,319.77 86.12,319.73 86.71,319.24 87.3,318.19 87.9,316.62 88.49,314.67 89.09,312.53 89.68,310.33 90.27,308.1 90.87,305.74 91.46,303.15 92.06,300.34 92.65,297.4 93.24,294.43 93.84,291.55 94.43,288.85 95.03,286.42 95.62,284.28 96.21,282.38 96.81,280.65 97.4,279 98,277.38 98.59,275.71 99.18,273.96 99.78,272.11 100.37,270.18 100.97,268.2 101.56,266.21 102.15,264.21 102.75,262.25 103.34,260.29 103.94,258.32 104.53,256.31 105.12,254.33 105.72,252.44 106.31,250.73 106.91,249.27 107.5,248.04 108.09,246.98 108.69,246.03 109.28,245.19 109.88,244.44 110.47,243.8 111.06,243.25 111.66,242.79 112.25,242.37 112.85,241.99 113.44,241.65 114.03,241.37 114.63,241.16 115.22,241.03 115.82,241 116.41,241.1 117,241.34 117.6,241.68 118.19,242.1 118.79,242.58 119.38,243.09 119.97,243.62 120.57,244.17 121.16,244.79 121.76,245.49 122.35,246.29 122.94,247.18 123.54,248.12 124.13,249.12 124.73,250.14 125.32,251.19 125.91,252.27 126.51,253.4 127.1,254.59 127.7,255.84 128.29,257.14 128.88,258.49 129.48,259.88 130.07,261.32 130.67,262.8 131.26,264.34 131.85,265.98 132.45,267.74 133.04,269.7 133.64,271.92 134.23,274.45 134.82,277.22 135.42,280.14 136.01,283.12 136.61,286.15 137.2,289.26 137.79,292.16 138.39,294.77 138.98,297 139.58,298.95 140.17,300.76 140.76,302.38 141.36,303.71 141.95,304.64 142.55,305.06 143.14,304.99 143.73,304.58 144.33,303.94 144.92,303.27 145.52,302.52 146.11,301.75 146.7,301.02 147.3,300.39 147.89,299.86 148.49,299.42 149.08,299.01 149.67,298.63 150.27,298.27 150.86,297.94 151.46,297.64 152.05,297.38 152.64,297.17 153.24,297 153.83,296.88 154.43,296.82 155.02,296.78 155.61,296.77 156.21,296.77 156.8,296.79 157.4,296.82 157.99,296.86 158.58,296.91 159.18,296.97 159.77,297.04 160.37,297.1 160.96,297.17 161.55,297.24 162.15,297.3 162.74,297.36 163.34,297.41 163.93,297.45 164.52,297.48 165.12,297.49 165.71,297.5 166.31,297.5 166.9,297.5 167.49,297.49 168.09,297.47 168.68,297.45 169.28,297.43 169.87,297.41 170.46,297.4 171.06,297.39 171.65,297.37 172.25,297.35 172.84,297.33 173.43,297.31 174.03,297.27 174.62,297.24 175.22,297.2 175.81,297.16 176.4,297.12 177,297.08 177.59,297.05 178.19,297.03 178.78,297.02 179.37,297.02 179.97,297.02 180.56,297.03 181.16,297.04 181.75,297.06 182.34,297.07 182.94,297.09 183.53,297.11 184.13,297.14 184.72,297.16 185.31,297.18 185.91,297.21 186.5,297.24 187.1,297.27 187.69,297.29 188.28,297.32 188.88,297.35 189.47,297.38 190.07,297.41 190.66,297.44 191.25,297.48 191.85,297.53 192.44,297.59 193.04,297.65 193.63,297.73 194.22,297.81 194.82,297.91 195.41,298.02 196.01,298.13 196.6,298.25 197.19,298.37 197.79,298.5 198.38,298.63 198.98,298.77 199.57,298.91 200.16,299.06 200.76,299.23 201.35,299.4 201.95,299.6 202.54,299.82 203.13,300.08 203.73,300.36 204.32,300.66 204.92,300.97 205.51,301.31 206.1,301.65 206.7,301.99 207.29,302.34 207.89,302.68 208.48,303.03 209.07,303.38 209.67,303.74 210.26,304.11 210.86,304.49 211.45,304.88 212.04,305.29 212.64,305.71 213.23,306.15 213.83,306.61 214.42,307.09 215.01,307.61 215.61,308.16 216.2,308.76 216.8,309.41 217.39,310.1 217.98,310.81 218.58,311.54 219.17,312.28 219.77,313.03 220.36,313.8 220.95,314.6 221.55,315.42 222.14,316.27 222.74,317.14 223.33,318.03 223.92,318.92 224.52,319.81 225.11,320.69 225.71,321.56 226.3,322.41 226.89,323.23 227.49,324.03 228.08,324.78 228.68,325.5 229.27,326.2 229.86,326.89 230.46,327.57 231.05,328.25 231.65,328.92 232.24,329.59 232.83,330.26 233.43,330.92 234.02,331.58 234.62,332.24 235.21,332.89 235.8,333.54 236.4,334.18 236.99,334.81 237.59,335.44 238.18,336.07 238.77,336.69 239.37,337.3 239.96,337.91 240.56,338.51 241.15,339.1 241.74,339.68 242.34,340.26 242.93,340.83 243.53,341.4 244.12,341.95 244.71,342.5 245.31,343.04 245.9,343.57 246.5,344.09 247.09,344.61 247.68,345.11 248.28,345.61 248.87,346.09 249.47,346.57 250.06,347.03 250.65,347.49 251.25,347.93 251.84,348.37 252.44,348.79 253.03,349.2 253.62,349.6 254.22,349.99 254.81,350.37 255.41,350.71 256,350.96" fill="none" stroke="#8a2af0" stroke-width="1.1" stroke-linejoin="round"/>
<polyline points="83.74,317.03 84.33,317.56 84.93,318.07 85.52,318.34 86.12,318.28 86.71,317.77 87.3,316.68 87.9,315.05 88.49,313.04 89.09,310.82 89.68,308.52 90.27,306.18 90.87,303.69 91.46,300.95 92.06,297.97 92.65,294.85 93.24,291.69 93.84,288.63 94.43,285.77 95.03,283.21 95.62,280.97 96.21,279.01 96.81,277.22 97.4,275.53 98,273.86 98.59,272.15 99.18,270.33 99.78,268.41 100.37,266.41 100.97,264.35 101.56,262.26 102.15,260.18 102.75,258.12 103.34,256.06 103.94,253.97 104.53,251.83 105.12,249.72 105.72,247.71 106.31,245.89 106.91,244.33 107.5,243.03 108.09,241.91 108.69,240.91 109.28,240.01 109.88,239.22 110.47,238.55 111.06,237.98 111.66,237.5 112.25,237.06 112.85,236.66 113.44,236.3 114.03,236 114.63,235.76 115.22,235.6 115.82,235.54 116.41,235.59 117,235.8 117.6,236.11 118.19,236.51 118.79,236.97 119.38,237.48 119.97,238 120.57,238.57 121.16,239.2 121.76,239.93 122.35,240.77 122.94,241.7 123.54,242.7 124.13,243.75 124.73,244.84 125.32,245.94 125.91,247.08 126.51,248.28 127.1,249.54 127.7,250.86 128.29,252.23 128.88,253.65 129.48,255.11 130.07,256.6 130.67,258.13 131.26,259.71 131.85,261.38 132.45,263.18 133.04,265.18 133.64,267.46 134.23,270.05 134.82,272.92 135.42,275.94 136.01,279.05 136.61,282.21 137.2,285.48 137.79,288.65 138.39,291.54 138.98,294.02 139.58,296.21 140.17,298.24 140.76,300.07 141.36,301.58 141.95,302.66 142.55,303.22 143.14,303.27 143.73,302.96 144.33,302.42 144.92,301.78 145.52,301.05 146.11,300.3 146.7,299.59 147.3,298.97 147.89,298.47 148.49,298.05 149.08,297.66 149.67,297.3 150.27,296.96 150.86,296.64 151.46,296.35 152.05,296.11 152.64,295.9 153.24,295.75 153.83,295.66 154.43,295.61 155.02,295.6 155.61,295.6 156.21,295.63 156.8,295.67 157.4,295.72 157.99,295.79 158.58,295.86 159.18,295.94 159.77,296.03 160.37,296.12 160.96,296.2 161.55,296.29 162.15,296.38 162.74,296.46 163.34,296.53 163.93,296.6 164.52,296.65 165.12,296.69 165.71,296.73 166.31,296.76 166.9,296.78 167.49,296.8 168.09,296.82 168.68,296.83 169.28,296.85 169.87,296.86 170.46,296.87 171.06,296.89 171.65,296.9 172.25,296.91 172.84,296.92 173.43,296.92 174.03,296.93 174.62,296.93 175.22,296.93 175.81,296.93 176.4,296.93 177,296.94 177.59,296.95 178.19,296.96 178.78,296.98 179.37,297.01 179.97,297.04 180.56,297.07 181.16,297.11 181.75,297.14 182.34,297.18 182.94,297.22 183.53,297.26 184.13,297.3 184.72,297.35 185.31,297.4 185.91,297.44 186.5,297.49 187.1,297.55 187.69,297.6 188.28,297.66 188.88,297.72 189.47,297.78 190.07,297.85 190.66,297.92 191.25,298 191.85,298.08 192.44,298.17 193.04,298.26 193.63,298.36 194.22,298.47 194.82,298.59 195.41,298.71 196.01,298.84 196.6,298.97 197.19,299.11 197.79,299.25 198.38,299.4 198.98,299.55 199.57,299.72 200.16,299.89 200.76,300.07 201.35,300.26 201.95,300.48 202.54,300.71 203.13,300.97 203.73,301.25 204.32,301.55 204.92,301.87 205.51,302.19 206.1,302.53 206.7,302.87 207.29,303.21 207.89,303.55 208.48,303.9 209.07,304.25 209.67,304.61 210.26,304.98 210.86,305.36 211.45,305.75 212.04,306.16 212.64,306.58 213.23,307.02 213.83,307.48 214.42,307.97 215.01,308.48 215.61,309.03 216.2,309.63 216.8,310.28 217.39,310.96 217.98,311.66 218.58,312.39 219.17,313.13 219.77,313.89 220.36,314.66 220.95,315.47 221.55,316.3 222.14,317.17 222.74,318.06 223.33,318.96 223.92,319.86 224.52,320.77 225.11,321.67 225.71,322.56 226.3,323.42 226.89,324.26 227.49,325.07 228.08,325.83 228.68,326.56 229.27,327.26 229.86,327.95 230.46,328.63 231.05,329.31 231.65,329.99 232.24,330.66 232.83,331.34 233.43,332 234.02,332.66 234.62,333.32 235.21,333.97 235.8,334.62 236.4,335.26 236.99,335.9 237.59,336.53 238.18,337.15 238.77,337.77 239.37,338.38 239.96,338.99 240.56,339.59 241.15,340.18 241.74,340.76 242.34,341.34 242.93,341.9 243.53,342.46 244.12,343.02 244.71,343.56 245.31,344.09 245.9,344.62 246.5,345.13 247.09,345.64 247.68,346.14 248.28,346.62 248.87,347.1 249.47,347.57 250.06,348.02 250.65,348.47 251.25,348.9 251.84,349.32 252.44,349.73 253.03,350.13 253.62,350.52 254.22,350.89 254.81,351.25 255.41,351.58 256,351.81" fill="none" stroke="#a050a8" stroke-width="1.1" stroke-linejoin="round"/>
<polyline points="83.74,314.59 84.33,315.14 84.93,315.66 85.52,315.94 86.12,315.88 86.71,315.34 87.3,314.21 87.9,312.53 88.49,310.44 89.09,308.1 89.68,305.67 90.27,303.19 90.87,300.54 91.46,297.61 92.06,294.41 92.65,291.04 93.24,287.64 93.84,284.36 94.43,281.3 95.03,278.6 95.62,276.26 96.21,274.24 96.81,272.43 97.4,270.72 98,269.04 98.59,267.31 99.18,265.47 99.78,263.5 100.37,261.45 100.97,259.33 101.56,257.18 102.15,255.03 102.75,252.89 103.34,250.75 103.94,248.57 104.53,246.33 105.12,244.11 105.72,242.01 106.31,240.12 106.91,238.51 107.5,237.19 108.09,236.05 108.69,235.04 109.28,234.15 109.88,233.37 110.47,232.72 111.06,232.19 111.66,231.75 112.25,231.36 112.85,230.99 113.44,230.67 114.03,230.4 114.63,230.19 115.22,230.06 115.82,230.01 116.41,230.08 117,230.25 117.6,230.54 118.19,230.92 118.79,231.36 119.38,231.86 119.97,232.39 120.57,232.96 121.16,233.61 121.76,234.37 122.35,235.25 122.94,236.23 123.54,237.28 124.13,238.39 124.73,239.53 125.32,240.7 125.91,241.9 126.51,243.16 127.1,244.49 127.7,245.88 128.29,247.32 128.88,248.81 129.48,250.33 130.07,251.88 130.67,253.46 131.26,255.08 131.85,256.78 132.45,258.62 133.04,260.66 133.64,262.99 134.23,265.66 134.82,268.61 135.42,271.75 136.01,274.97 136.61,278.28 137.2,281.69 137.79,285.09 138.39,288.2 138.98,290.89 139.58,293.27 140.17,295.47 140.76,297.47 141.36,299.14 141.95,300.34 142.55,301 143.14,301.13 143.73,300.9 144.33,300.43 144.92,299.81 145.52,299.1 146.11,298.38 146.7,297.69 147.3,297.1 147.89,296.63 148.49,296.24 149.08,295.89 149.67,295.55 150.27,295.23 150.86,294.93 151.46,294.66 152.05,294.43 152.64,294.24 153.24,294.11 153.83,294.04 154.43,294.02 155.02,294.04 155.61,294.07 156.21,294.13 156.8,294.2 157.4,294.28 157.99,294.37 158.58,294.47 159.18,294.58 159.77,294.7 160.37,294.81 160.96,294.93 161.55,295.05 162.15,295.16 162.74,295.28 163.34,295.38 163.93,295.47 164.52,295.56 165.12,295.64 165.71,295.71 166.31,295.77 166.9,295.84 167.49,295.9 168.09,295.96 168.68,296.02 169.28,296.07 169.87,296.13 170.46,296.19 171.06,296.24 171.65,296.29 172.25,296.35 172.84,296.4 173.43,296.45 174.03,296.5 174.62,296.55 175.22,296.61 175.81,296.66 176.4,296.71 177,296.77 177.59,296.82 178.19,296.88 178.78,296.94 179.37,297 179.97,297.06 180.56,297.12 181.16,297.18 181.75,297.24 182.34,297.3 182.94,297.36 183.53,297.42 184.13,297.48 184.72,297.55 185.31,297.62 185.91,297.69 186.5,297.76 187.1,297.84 187.69,297.92 188.28,298.01 188.88,298.1 189.47,298.2 190.07,298.3 190.66,298.4 191.25,298.52 191.85,298.63 192.44,298.75 193.04,298.87 193.63,299 194.22,299.13 194.82,299.26 195.41,299.4 196.01,299.54 196.6,299.69 197.19,299.84 197.79,300 198.38,300.17 198.98,300.34 199.57,300.52 200.16,300.71 200.76,300.91 201.35,301.13 201.95,301.36 202.54,301.6 203.13,301.87 203.73,302.15 204.32,302.45 204.92,302.76 205.51,303.08 206.1,303.4 206.7,303.74 207.29,304.08 207.89,304.42 208.48,304.77 209.07,305.12 209.67,305.48 210.26,305.85 210.86,306.23 211.45,306.63 212.04,307.03 212.64,307.46 213.23,307.9 213.83,308.36 214.42,308.84 215.01,309.35 215.61,309.9 216.2,310.5 216.8,311.14 217.39,311.82 217.98,312.52 218.58,313.25 219.17,313.99 219.77,314.74 220.36,315.52 220.95,316.34 221.55,317.19 222.14,318.07 222.74,318.97 223.33,319.89 223.92,320.81 224.52,321.74 225.11,322.65 225.71,323.56 226.3,324.44 226.89,325.29 227.49,326.11 228.08,326.88 228.68,327.61 229.27,328.32 229.86,329.01 230.46,329.7 231.05,330.38 231.65,331.06 232.24,331.74 232.83,332.41 233.43,333.08 234.02,333.74 234.62,334.4 235.21,335.05 235.8,335.7 236.4,336.35 236.99,336.98 237.59,337.61 238.18,338.24 238.77,338.86 239.37,339.47 239.96,340.07 240.56,340.67 241.15,341.26 241.74,341.84 242.34,342.41 242.93,342.98 243.53,343.53 244.12,344.08 244.71,344.62 245.31,345.15 245.9,345.67 246.5,346.18 247.09,346.67 247.68,347.16 248.28,347.64 248.87,348.11 249.47,348.57 250.06,349.01 250.65,349.45 251.25,349.87 251.84,350.28 252.44,350.68 253.03,351.06 253.62,351.43 254.22,351.79 254.81,352.14 255.41,352.45 256,352.67" fill="none" stroke="#8c2828" stroke-width="1.1" stroke-linejoin="round"/>
<line x1="115.9" y1="298.5" x2="115.9" y2="307.7" stroke="#18b6ee" stroke-width="2.3"/>
<line x1="115.9" y1="282.9" x2="115.9" y2="292.1" stroke="#18b6ee" stroke-width="2.3"/>
<line x1="115.9" y1="267.3" x2="115.9" y2="276.5" stroke="#18b6ee" stroke-width="2.3"/>
<line x1="115.9" y1="251.7" x2="115.9" y2="260.9" stroke="#18b6ee" stroke-width="2.3"/>
<line x1="115.9" y1="236.1" x2="115.9" y2="245.3" stroke="#18b6ee" stroke-width="2.3"/>
<polygon points="112.4,228.6 119.4,228.6 115.9,221.1" fill="#18b6ee"/>
<line x1="199.5" y1="274.5" x2="199.5" y2="283.1" stroke="#c8202c" stroke-width="2.5"/>
<line x1="199.5" y1="289.6" x2="199.5" y2="298.2" stroke="#c8202c" stroke-width="2.5"/>
<line x1="199.5" y1="304.7" x2="199.5" y2="313.3" stroke="#c8202c" stroke-width="2.5"/>
<polygon points="196.4,317.8 202.6,317.8 199.5,324.3" fill="#c8202c"/>
<line x1="216.6" y1="225" x2="233.3" y2="225" stroke="#222222" stroke-width="1.25"/>
<text x="235.20000000000002" y="228.1" font-size="7.05" letter-spacing="0.24" fill="#1a1a1a">0 μM</text>
<line x1="216.6" y1="234.16" x2="233.3" y2="234.16" stroke="#ff2a2a" stroke-width="1.25"/>
<text x="235.20000000000002" y="237.26" font-size="7.05" letter-spacing="0.24" fill="#1a1a1a">1.125 μM</text>
<line x1="216.6" y1="243.32" x2="233.3" y2="243.32" stroke="#3a3aff" stroke-width="1.25"/>
<text x="235.20000000000002" y="246.42" font-size="7.05" letter-spacing="0.24" fill="#1a1a1a">4.25 μM</text>
<line x1="216.6" y1="252.48" x2="233.3" y2="252.48" stroke="#ff40ff" stroke-width="1.25"/>
<text x="235.20000000000002" y="255.58" font-size="7.05" letter-spacing="0.24" fill="#1a1a1a">8.5 μM</text>
<line x1="216.6" y1="261.64" x2="233.3" y2="261.64" stroke="#2a8f2a" stroke-width="1.25"/>
<text x="235.20000000000002" y="264.74" font-size="7.05" letter-spacing="0.24" fill="#1a1a1a">12.75 μM</text>
<line x1="216.6" y1="270.8" x2="233.3" y2="270.8" stroke="#2a2a8a" stroke-width="1.25"/>
<text x="235.20000000000002" y="273.9" font-size="7.05" letter-spacing="0.24" fill="#1a1a1a">17 μM</text>
<line x1="216.6" y1="279.96" x2="233.3" y2="279.96" stroke="#8a2af0" stroke-width="1.25"/>
<text x="235.20000000000002" y="283.06" font-size="7.05" letter-spacing="0.24" fill="#1a1a1a">23.375 μM</text>
<line x1="216.6" y1="289.12" x2="233.3" y2="289.12" stroke="#a050a8" stroke-width="1.25"/>
<text x="235.20000000000002" y="292.22" font-size="7.05" letter-spacing="0.24" fill="#1a1a1a">28.75 μM</text>
<line x1="216.6" y1="298.28" x2="233.3" y2="298.28" stroke="#8c2828" stroke-width="1.25"/>
<text x="235.20000000000002" y="301.38" font-size="7.05" letter-spacing="0.24" fill="#1a1a1a">38.25 μM</text>
<rect x="63.2" y="217.3" width="207.6" height="155.2" fill="none" stroke="#3a3a3a" stroke-width="1.15"/>
<line x1="60.0" y1="360.58" x2="63.2" y2="360.58" stroke="#3a3a3a" stroke-width="1"/>
<text x="58.4" y="363.08" font-size="7.8" text-anchor="end" fill="#222">500</text>
<line x1="60.0" y1="336.7" x2="63.2" y2="336.7" stroke="#3a3a3a" stroke-width="1"/>
<text x="58.4" y="339.2" font-size="7.8" text-anchor="end" fill="#222">1000</text>
<line x1="60.0" y1="312.82" x2="63.2" y2="312.82" stroke="#3a3a3a" stroke-width="1"/>
<text x="58.4" y="315.32" font-size="7.8" text-anchor="end" fill="#222">1500</text>
<line x1="60.0" y1="288.94" x2="63.2" y2="288.94" stroke="#3a3a3a" stroke-width="1"/>
<text x="58.4" y="291.44" font-size="7.8" text-anchor="end" fill="#222">2000</text>
<line x1="60.0" y1="265.06" x2="63.2" y2="265.06" stroke="#3a3a3a" stroke-width="1"/>
<text x="58.4" y="267.56" font-size="7.8" text-anchor="end" fill="#222">2500</text>
<line x1="60.0" y1="241.18" x2="63.2" y2="241.18" stroke="#3a3a3a" stroke-width="1"/>
<text x="58.4" y="243.68" font-size="7.8" text-anchor="end" fill="#222">3000</text>
<line x1="60.0" y1="217.3" x2="63.2" y2="217.3" stroke="#3a3a3a" stroke-width="1"/>
<text x="58.4" y="219.8" font-size="7.8" text-anchor="end" fill="#222">3500</text>
<line x1="61.400000000000006" y1="372.52" x2="63.2" y2="372.52" stroke="#3a3a3a" stroke-width="1"/>
<line x1="61.400000000000006" y1="348.64" x2="63.2" y2="348.64" stroke="#3a3a3a" stroke-width="1"/>
<line x1="61.400000000000006" y1="324.76" x2="63.2" y2="324.76" stroke="#3a3a3a" stroke-width="1"/>
<line x1="61.400000000000006" y1="300.88" x2="63.2" y2="300.88" stroke="#3a3a3a" stroke-width="1"/>
<line x1="61.400000000000006" y1="277" x2="63.2" y2="277" stroke="#3a3a3a" stroke-width="1"/>
<line x1="61.400000000000006" y1="253.12" x2="63.2" y2="253.12" stroke="#3a3a3a" stroke-width="1"/>
<line x1="61.400000000000006" y1="229.24" x2="63.2" y2="229.24" stroke="#3a3a3a" stroke-width="1"/>
<line x1="77.8" y1="372.5" x2="77.8" y2="375.7" stroke="#3a3a3a" stroke-width="1"/>
<text x="77.8" y="383.7" font-size="7.8" text-anchor="middle" fill="#222">400</text>
<line x1="107.5" y1="372.5" x2="107.5" y2="375.7" stroke="#3a3a3a" stroke-width="1"/>
<text x="107.5" y="383.7" font-size="7.8" text-anchor="middle" fill="#222">450</text>
<line x1="137.2" y1="372.5" x2="137.2" y2="375.7" stroke="#3a3a3a" stroke-width="1"/>
<text x="137.2" y="383.7" font-size="7.8" text-anchor="middle" fill="#222">500</text>
<line x1="166.9" y1="372.5" x2="166.9" y2="375.7" stroke="#3a3a3a" stroke-width="1"/>
<text x="166.9" y="383.7" font-size="7.8" text-anchor="middle" fill="#222">550</text>
<line x1="196.6" y1="372.5" x2="196.6" y2="375.7" stroke="#3a3a3a" stroke-width="1"/>
<text x="196.6" y="383.7" font-size="7.8" text-anchor="middle" fill="#222">600</text>
<line x1="226.3" y1="372.5" x2="226.3" y2="375.7" stroke="#3a3a3a" stroke-width="1"/>
<text x="226.3" y="383.7" font-size="7.8" text-anchor="middle" fill="#222">650</text>
<line x1="256" y1="372.5" x2="256" y2="375.7" stroke="#3a3a3a" stroke-width="1"/>
<text x="256" y="383.7" font-size="7.8" text-anchor="middle" fill="#222">700</text>
<line x1="62.95" y1="372.5" x2="62.95" y2="374.3" stroke="#3a3a3a" stroke-width="1"/>
<line x1="92.65" y1="372.5" x2="92.65" y2="374.3" stroke="#3a3a3a" stroke-width="1"/>
<line x1="122.35" y1="372.5" x2="122.35" y2="374.3" stroke="#3a3a3a" stroke-width="1"/>
<line x1="152.05" y1="372.5" x2="152.05" y2="374.3" stroke="#3a3a3a" stroke-width="1"/>
<line x1="181.75" y1="372.5" x2="181.75" y2="374.3" stroke="#3a3a3a" stroke-width="1"/>
<line x1="211.45" y1="372.5" x2="211.45" y2="374.3" stroke="#3a3a3a" stroke-width="1"/>
<line x1="241.15" y1="372.5" x2="241.15" y2="374.3" stroke="#3a3a3a" stroke-width="1"/>
<line x1="270.85" y1="372.5" x2="270.85" y2="374.3" stroke="#3a3a3a" stroke-width="1"/>
<text transform="translate(34.6,292.5) rotate(-90)" font-size="10.1" font-weight="bold" text-anchor="middle" fill="#111" stroke="#111" stroke-width="0.2">Fluorescence intensity</text>
<text x="167" y="398.4" font-size="9.8" font-weight="bold" text-anchor="middle" fill="#111" stroke="#111" stroke-width="0.2">Wavelength (nm)</text>
<rect x="329.6" y="18.4" width="211.2" height="156.2" fill="none" stroke="#3a3a3a" stroke-width="1.15"/>
<line x1="326.40000000000003" y1="161.3" x2="329.6" y2="161.3" stroke="#3a3a3a" stroke-width="1"/>
<text x="324.2" y="163.9" font-size="7.7" font-weight="bold" text-anchor="end" fill="#111" stroke="#111" stroke-width="0.3">1.0</text>
<line x1="326.40000000000003" y1="135.28" x2="329.6" y2="135.28" stroke="#3a3a3a" stroke-width="1"/>
<text x="324.2" y="137.88" font-size="7.7" font-weight="bold" text-anchor="end" fill="#111" stroke="#111" stroke-width="0.3">1.2</text>
<line x1="326.40000000000003" y1="109.26" x2="329.6" y2="109.26" stroke="#3a3a3a" stroke-width="1"/>
<text x="324.2" y="111.86" font-size="7.7" font-weight="bold" text-anchor="end" fill="#111" stroke="#111" stroke-width="0.3">1.4</text>
<line x1="326.40000000000003" y1="83.24" x2="329.6" y2="83.24" stroke="#3a3a3a" stroke-width="1"/>
<text x="324.2" y="85.84" font-size="7.7" font-weight="bold" text-anchor="end" fill="#111" stroke="#111" stroke-width="0.3">1.6</text>
<line x1="326.40000000000003" y1="57.22" x2="329.6" y2="57.22" stroke="#3a3a3a" stroke-width="1"/>
<text x="324.2" y="59.82" font-size="7.7" font-weight="bold" text-anchor="end" fill="#111" stroke="#111" stroke-width="0.3">1.8</text>
<line x1="326.40000000000003" y1="31.2" x2="329.6" y2="31.2" stroke="#3a3a3a" stroke-width="1"/>
<text x="324.2" y="33.8" font-size="7.7" font-weight="bold" text-anchor="end" fill="#111" stroke="#111" stroke-width="0.3">2.0</text>
<line x1="327.8" y1="174.31" x2="329.6" y2="174.31" stroke="#3a3a3a" stroke-width="1"/>
<line x1="327.8" y1="148.29" x2="329.6" y2="148.29" stroke="#3a3a3a" stroke-width="1"/>
<line x1="327.8" y1="122.27" x2="329.6" y2="122.27" stroke="#3a3a3a" stroke-width="1"/>
<line x1="327.8" y1="96.25" x2="329.6" y2="96.25" stroke="#3a3a3a" stroke-width="1"/>
<line x1="327.8" y1="70.23" x2="329.6" y2="70.23" stroke="#3a3a3a" stroke-width="1"/>
<line x1="327.8" y1="44.21" x2="329.6" y2="44.21" stroke="#3a3a3a" stroke-width="1"/>
<line x1="341.9" y1="174.6" x2="341.9" y2="177.79999999999998" stroke="#3a3a3a" stroke-width="1"/>
<text x="341.9" y="185.8" font-size="7.7" font-weight="bold" text-anchor="middle" fill="#111" stroke="#111" stroke-width="0.3">0</text>
<line x1="365.22" y1="174.6" x2="365.22" y2="177.79999999999998" stroke="#3a3a3a" stroke-width="1"/>
<text x="365.22" y="185.8" font-size="7.7" font-weight="bold" text-anchor="middle" fill="#111" stroke="#111" stroke-width="0.3">5</text>
<line x1="388.55" y1="174.6" x2="388.55" y2="177.79999999999998" stroke="#3a3a3a" stroke-width="1"/>
<text x="388.55" y="185.8" font-size="7.7" font-weight="bold" text-anchor="middle" fill="#111" stroke="#111" stroke-width="0.3">10</text>
<line x1="411.88" y1="174.6" x2="411.88" y2="177.79999999999998" stroke="#3a3a3a" stroke-width="1"/>
<text x="411.88" y="185.8" font-size="7.7" font-weight="bold" text-anchor="middle" fill="#111" stroke="#111" stroke-width="0.3">15</text>
<line x1="435.2" y1="174.6" x2="435.2" y2="177.79999999999998" stroke="#3a3a3a" stroke-width="1"/>
<text x="435.2" y="185.8" font-size="7.7" font-weight="bold" text-anchor="middle" fill="#111" stroke="#111" stroke-width="0.3">20</text>
<line x1="458.52" y1="174.6" x2="458.52" y2="177.79999999999998" stroke="#3a3a3a" stroke-width="1"/>
<text x="458.52" y="185.8" font-size="7.7" font-weight="bold" text-anchor="middle" fill="#111" stroke="#111" stroke-width="0.3">25</text>
<line x1="481.85" y1="174.6" x2="481.85" y2="177.79999999999998" stroke="#3a3a3a" stroke-width="1"/>
<text x="481.85" y="185.8" font-size="7.7" font-weight="bold" text-anchor="middle" fill="#111" stroke="#111" stroke-width="0.3">30</text>
<line x1="505.17" y1="174.6" x2="505.17" y2="177.79999999999998" stroke="#3a3a3a" stroke-width="1"/>
<text x="505.17" y="185.8" font-size="7.7" font-weight="bold" text-anchor="middle" fill="#111" stroke="#111" stroke-width="0.3">35</text>
<line x1="528.5" y1="174.6" x2="528.5" y2="177.79999999999998" stroke="#3a3a3a" stroke-width="1"/>
<text x="528.5" y="185.8" font-size="7.7" font-weight="bold" text-anchor="middle" fill="#111" stroke="#111" stroke-width="0.3">40</text>
<line x1="330.24" y1="174.6" x2="330.24" y2="176.4" stroke="#3a3a3a" stroke-width="1"/>
<line x1="353.56" y1="174.6" x2="353.56" y2="176.4" stroke="#3a3a3a" stroke-width="1"/>
<line x1="376.89" y1="174.6" x2="376.89" y2="176.4" stroke="#3a3a3a" stroke-width="1"/>
<line x1="400.21" y1="174.6" x2="400.21" y2="176.4" stroke="#3a3a3a" stroke-width="1"/>
<line x1="423.54" y1="174.6" x2="423.54" y2="176.4" stroke="#3a3a3a" stroke-width="1"/>
<line x1="446.86" y1="174.6" x2="446.86" y2="176.4" stroke="#3a3a3a" stroke-width="1"/>
<line x1="470.19" y1="174.6" x2="470.19" y2="176.4" stroke="#3a3a3a" stroke-width="1"/>
<line x1="493.51" y1="174.6" x2="493.51" y2="176.4" stroke="#3a3a3a" stroke-width="1"/>
<line x1="516.84" y1="174.6" x2="516.84" y2="176.4" stroke="#3a3a3a" stroke-width="1"/>
<line x1="540.16" y1="174.6" x2="540.16" y2="176.4" stroke="#3a3a3a" stroke-width="1"/>
<line x1="341.5" y1="143" x2="341.5" y2="155" stroke="#1a1a1a" stroke-width="1"/>
<line x1="339.3" y1="143" x2="343.7" y2="143" stroke="#1a1a1a" stroke-width="1"/>
<line x1="339.3" y1="155" x2="343.5" y2="155" stroke="#1a1a1a" stroke-width="1"/>
<rect x="339.8" y="147.4" width="3.4" height="3.4" fill="#111"/>
<line x1="347.1" y1="130.9" x2="347.1" y2="143" stroke="#1a1a1a" stroke-width="1"/>
<line x1="344.90000000000003" y1="130.9" x2="349.3" y2="130.9" stroke="#1a1a1a" stroke-width="1"/>
<line x1="344.90000000000003" y1="143" x2="349.1" y2="143" stroke="#1a1a1a" stroke-width="1"/>
<rect x="345.40000000000003" y="135.10000000000002" width="3.4" height="3.4" fill="#111"/>
<line x1="361.6" y1="115.7" x2="361.6" y2="126.1" stroke="#1a1a1a" stroke-width="1"/>
<line x1="359.40000000000003" y1="115.7" x2="363.8" y2="115.7" stroke="#1a1a1a" stroke-width="1"/>
<line x1="359.40000000000003" y1="126.1" x2="363.6" y2="126.1" stroke="#1a1a1a" stroke-width="1"/>
<rect x="359.90000000000003" y="119.3" width="3.4" height="3.4" fill="#111"/>
<line x1="381.4" y1="96.1" x2="381.4" y2="112.5" stroke="#1a1a1a" stroke-width="1"/>
<line x1="379.2" y1="96.1" x2="383.59999999999997" y2="96.1" stroke="#1a1a1a" stroke-width="1"/>
<line x1="379.2" y1="112.5" x2="383.4" y2="112.5" stroke="#1a1a1a" stroke-width="1"/>
<rect x="379.7" y="102.5" width="3.4" height="3.4" fill="#111"/>
<line x1="401.5" y1="82.5" x2="401.5" y2="101" stroke="#1a1a1a" stroke-width="1"/>
<line x1="399.3" y1="82.5" x2="403.7" y2="82.5" stroke="#1a1a1a" stroke-width="1"/>
<line x1="399.3" y1="101" x2="403.5" y2="101" stroke="#1a1a1a" stroke-width="1"/>
<rect x="399.8" y="89.89999999999999" width="3.4" height="3.4" fill="#111"/>
<line x1="421.5" y1="68.6" x2="421.5" y2="81.4" stroke="#1a1a1a" stroke-width="1"/>
<line x1="419.3" y1="68.6" x2="423.7" y2="68.6" stroke="#1a1a1a" stroke-width="1"/>
<line x1="419.3" y1="81.4" x2="423.5" y2="81.4" stroke="#1a1a1a" stroke-width="1"/>
<rect x="419.8" y="73.0" width="3.4" height="3.4" fill="#111"/>
<line x1="450.9" y1="53.4" x2="450.9" y2="69.5" stroke="#1a1a1a" stroke-width="1"/>
<line x1="448.7" y1="53.4" x2="453.09999999999997" y2="53.4" stroke="#1a1a1a" stroke-width="1"/>
<line x1="448.7" y1="69.5" x2="452.9" y2="69.5" stroke="#1a1a1a" stroke-width="1"/>
<rect x="449.2" y="59.9" width="3.4" height="3.4" fill="#111"/>
<line x1="480.8" y1="35.5" x2="480.8" y2="56.7" stroke="#1a1a1a" stroke-width="1"/>
<line x1="478.6" y1="35.5" x2="483.0" y2="35.5" stroke="#1a1a1a" stroke-width="1"/>
<line x1="478.6" y1="56.7" x2="482.8" y2="56.7" stroke="#1a1a1a" stroke-width="1"/>
<rect x="479.1" y="44.3" width="3.4" height="3.4" fill="#111"/>
<line x1="520.6" y1="30.4" x2="520.6" y2="48.5" stroke="#1a1a1a" stroke-width="1"/>
<line x1="518.4" y1="30.4" x2="522.8000000000001" y2="30.4" stroke="#1a1a1a" stroke-width="1"/>
<line x1="518.4" y1="48.5" x2="522.6" y2="48.5" stroke="#1a1a1a" stroke-width="1"/>
<rect x="518.9" y="37.599999999999994" width="3.4" height="3.4" fill="#111"/>
<line x1="347.15" y1="134.31" x2="421.2" y2="74.21" stroke="#ff1a1a" stroke-width="2.5" stroke-dasharray="10.3,5.2"/>
<text x="404" y="114.2" font-size="11.3" font-weight="bold" letter-spacing="0.15" fill="#ff1a1a" stroke="#ff1a1a" stroke-width="0.2"><tspan font-style="italic">y</tspan> = 0.0291<tspan font-style="italic">x</tspan>+1.1747</text>
<text x="404" y="127.60000000000001" font-size="11.3" font-weight="bold" letter-spacing="0.1" fill="#ff1a1a" stroke="#ff1a1a" stroke-width="0.2"><tspan font-style="italic">R</tspan><tspan font-size="8.36" dy="-2.71">2</tspan><tspan dy="2.71"> = 0.9936</tspan></text>
<text transform="translate(302.6,108.5) rotate(-90)" font-size="11.4" font-weight="bold" font-style="italic" text-anchor="middle" fill="#111">I<tspan font-size="6.61" dx="0.3" dy="4.33" font-style="normal">468</tspan><tspan dx="0.3" dy="-4.33">/</tspan><tspan dx="0.3">I</tspan><tspan font-size="6.61" dx="0.3" dy="4.33" font-style="normal">610</tspan></text>
<text x="436.2" y="201.2" font-size="8.9" font-weight="bold" text-anchor="middle" letter-spacing="0.32" fill="#111" stroke="#111" stroke-width="0.2">CH<tspan font-size="5.52" dy="2.4">3</tspan><tspan dy="-2.4">SH concentrations (μM)</tspan></text>
<rect x="329.9" y="216.5" width="211.3" height="155" fill="none" stroke="#3a3a3a" stroke-width="1.15"/>
<line x1="326.7" y1="358.4" x2="329.9" y2="358.4" stroke="#3a3a3a" stroke-width="1"/>
<text x="324.5" y="361" font-size="7.7" font-weight="bold" text-anchor="end" fill="#111" stroke="#111" stroke-width="0.3">1.0</text>
<line x1="326.7" y1="332.68" x2="329.9" y2="332.68" stroke="#3a3a3a" stroke-width="1"/>
<text x="324.5" y="335.28" font-size="7.7" font-weight="bold" text-anchor="end" fill="#111" stroke="#111" stroke-width="0.3">1.2</text>
<line x1="326.7" y1="306.96" x2="329.9" y2="306.96" stroke="#3a3a3a" stroke-width="1"/>
<text x="324.5" y="309.56" font-size="7.7" font-weight="bold" text-anchor="end" fill="#111" stroke="#111" stroke-width="0.3">1.4</text>
<line x1="326.7" y1="281.24" x2="329.9" y2="281.24" stroke="#3a3a3a" stroke-width="1"/>
<text x="324.5" y="283.84" font-size="7.7" font-weight="bold" text-anchor="end" fill="#111" stroke="#111" stroke-width="0.3">1.6</text>
<line x1="326.7" y1="255.52" x2="329.9" y2="255.52" stroke="#3a3a3a" stroke-width="1"/>
<text x="324.5" y="258.12" font-size="7.7" font-weight="bold" text-anchor="end" fill="#111" stroke="#111" stroke-width="0.3">1.8</text>
<line x1="326.7" y1="229.8" x2="329.9" y2="229.8" stroke="#3a3a3a" stroke-width="1"/>
<text x="324.5" y="232.4" font-size="7.7" font-weight="bold" text-anchor="end" fill="#111" stroke="#111" stroke-width="0.3">2.0</text>
<line x1="328.09999999999997" y1="371.26" x2="329.9" y2="371.26" stroke="#3a3a3a" stroke-width="1"/>
<line x1="328.09999999999997" y1="345.54" x2="329.9" y2="345.54" stroke="#3a3a3a" stroke-width="1"/>
<line x1="328.09999999999997" y1="319.82" x2="329.9" y2="319.82" stroke="#3a3a3a" stroke-width="1"/>
<line x1="328.09999999999997" y1="294.1" x2="329.9" y2="294.1" stroke="#3a3a3a" stroke-width="1"/>
<line x1="328.09999999999997" y1="268.38" x2="329.9" y2="268.38" stroke="#3a3a3a" stroke-width="1"/>
<line x1="328.09999999999997" y1="242.66" x2="329.9" y2="242.66" stroke="#3a3a3a" stroke-width="1"/>
<line x1="341.5" y1="371.5" x2="341.5" y2="374.7" stroke="#3a3a3a" stroke-width="1"/>
<text x="341.5" y="382.4" font-size="7.7" font-weight="bold" text-anchor="middle" fill="#111" stroke="#111" stroke-width="0.3">0</text>
<line x1="364.95" y1="371.5" x2="364.95" y2="374.7" stroke="#3a3a3a" stroke-width="1"/>
<text x="364.95" y="382.4" font-size="7.7" font-weight="bold" text-anchor="middle" fill="#111" stroke="#111" stroke-width="0.3">5</text>
<line x1="388.4" y1="371.5" x2="388.4" y2="374.7" stroke="#3a3a3a" stroke-width="1"/>
<text x="388.4" y="382.4" font-size="7.7" font-weight="bold" text-anchor="middle" fill="#111" stroke="#111" stroke-width="0.3">10</text>
<line x1="411.85" y1="371.5" x2="411.85" y2="374.7" stroke="#3a3a3a" stroke-width="1"/>
<text x="411.85" y="382.4" font-size="7.7" font-weight="bold" text-anchor="middle" fill="#111" stroke="#111" stroke-width="0.3">15</text>
<line x1="435.3" y1="371.5" x2="435.3" y2="374.7" stroke="#3a3a3a" stroke-width="1"/>
<text x="435.3" y="382.4" font-size="7.7" font-weight="bold" text-anchor="middle" fill="#111" stroke="#111" stroke-width="0.3">20</text>
<line x1="458.75" y1="371.5" x2="458.75" y2="374.7" stroke="#3a3a3a" stroke-width="1"/>
<text x="458.75" y="382.4" font-size="7.7" font-weight="bold" text-anchor="middle" fill="#111" stroke="#111" stroke-width="0.3">25</text>
<line x1="482.2" y1="371.5" x2="482.2" y2="374.7" stroke="#3a3a3a" stroke-width="1"/>
<text x="482.2" y="382.4" font-size="7.7" font-weight="bold" text-anchor="middle" fill="#111" stroke="#111" stroke-width="0.3">30</text>
<line x1="505.65" y1="371.5" x2="505.65" y2="374.7" stroke="#3a3a3a" stroke-width="1"/>
<text x="505.65" y="382.4" font-size="7.7" font-weight="bold" text-anchor="middle" fill="#111" stroke="#111" stroke-width="0.3">35</text>
<line x1="529.1" y1="371.5" x2="529.1" y2="374.7" stroke="#3a3a3a" stroke-width="1"/>
<text x="529.1" y="382.4" font-size="7.7" font-weight="bold" text-anchor="middle" fill="#111" stroke="#111" stroke-width="0.3">40</text>
<line x1="329.77" y1="371.5" x2="329.77" y2="373.3" stroke="#3a3a3a" stroke-width="1"/>
<line x1="353.23" y1="371.5" x2="353.23" y2="373.3" stroke="#3a3a3a" stroke-width="1"/>
<line x1="376.68" y1="371.5" x2="376.68" y2="373.3" stroke="#3a3a3a" stroke-width="1"/>
<line x1="400.12" y1="371.5" x2="400.12" y2="373.3" stroke="#3a3a3a" stroke-width="1"/>
<line x1="423.57" y1="371.5" x2="423.57" y2="373.3" stroke="#3a3a3a" stroke-width="1"/>
<line x1="447.02" y1="371.5" x2="447.02" y2="373.3" stroke="#3a3a3a" stroke-width="1"/>
<line x1="470.48" y1="371.5" x2="470.48" y2="373.3" stroke="#3a3a3a" stroke-width="1"/>
<line x1="493.93" y1="371.5" x2="493.93" y2="373.3" stroke="#3a3a3a" stroke-width="1"/>
<line x1="517.38" y1="371.5" x2="517.38" y2="373.3" stroke="#3a3a3a" stroke-width="1"/>
<line x1="540.83" y1="371.5" x2="540.83" y2="373.3" stroke="#3a3a3a" stroke-width="1"/>
<line x1="341.5" y1="338.4" x2="341.5" y2="354.6" stroke="#1a1a1a" stroke-width="1"/>
<line x1="339.3" y1="338.4" x2="343.7" y2="338.4" stroke="#1a1a1a" stroke-width="1"/>
<line x1="339.3" y1="354.6" x2="343.5" y2="354.6" stroke="#1a1a1a" stroke-width="1"/>
<rect x="339.8" y="344.6" width="3.4" height="3.4" fill="#111"/>
<line x1="347.1" y1="321.8" x2="347.1" y2="334.9" stroke="#1a1a1a" stroke-width="1"/>
<line x1="344.90000000000003" y1="321.8" x2="349.3" y2="321.8" stroke="#1a1a1a" stroke-width="1"/>
<line x1="344.90000000000003" y1="334.9" x2="349.1" y2="334.9" stroke="#1a1a1a" stroke-width="1"/>
<rect x="345.40000000000003" y="326.3" width="3.4" height="3.4" fill="#111"/>
<line x1="362.1" y1="309.8" x2="362.1" y2="320.5" stroke="#1a1a1a" stroke-width="1"/>
<line x1="359.90000000000003" y1="309.8" x2="364.3" y2="309.8" stroke="#1a1a1a" stroke-width="1"/>
<line x1="359.90000000000003" y1="320.5" x2="364.1" y2="320.5" stroke="#1a1a1a" stroke-width="1"/>
<rect x="360.40000000000003" y="313.40000000000003" width="3.4" height="3.4" fill="#111"/>
<line x1="381.7" y1="298.3" x2="381.7" y2="311.1" stroke="#1a1a1a" stroke-width="1"/>
<line x1="379.5" y1="298.3" x2="383.9" y2="298.3" stroke="#1a1a1a" stroke-width="1"/>
<line x1="379.5" y1="311.1" x2="383.7" y2="311.1" stroke="#1a1a1a" stroke-width="1"/>
<rect x="380.0" y="302.7" width="3.4" height="3.4" fill="#111"/>
<line x1="401.7" y1="280" x2="401.7" y2="297.7" stroke="#1a1a1a" stroke-width="1"/>
<line x1="399.5" y1="280" x2="403.9" y2="280" stroke="#1a1a1a" stroke-width="1"/>
<line x1="399.5" y1="297.7" x2="403.7" y2="297.7" stroke="#1a1a1a" stroke-width="1"/>
<rect x="400.0" y="287.7" width="3.4" height="3.4" fill="#111"/>
<line x1="421.8" y1="267" x2="421.8" y2="277.6" stroke="#1a1a1a" stroke-width="1"/>
<line x1="419.6" y1="267" x2="424.0" y2="267" stroke="#1a1a1a" stroke-width="1"/>
<line x1="419.6" y1="277.6" x2="423.8" y2="277.6" stroke="#1a1a1a" stroke-width="1"/>
<rect x="420.1" y="270.6" width="3.4" height="3.4" fill="#111"/>
<line x1="451.5" y1="258.1" x2="451.5" y2="274.2" stroke="#1a1a1a" stroke-width="1"/>
<line x1="449.3" y1="258.1" x2="453.7" y2="258.1" stroke="#1a1a1a" stroke-width="1"/>
<line x1="449.3" y1="274.2" x2="453.5" y2="274.2" stroke="#1a1a1a" stroke-width="1"/>
<rect x="449.8" y="263.90000000000003" width="3.4" height="3.4" fill="#111"/>
<line x1="481.5" y1="245.5" x2="481.5" y2="263.5" stroke="#1a1a1a" stroke-width="1"/>
<line x1="479.3" y1="245.5" x2="483.7" y2="245.5" stroke="#1a1a1a" stroke-width="1"/>
<line x1="479.3" y1="263.5" x2="483.5" y2="263.5" stroke="#1a1a1a" stroke-width="1"/>
<rect x="479.8" y="252.9" width="3.4" height="3.4" fill="#111"/>
<line x1="521.6" y1="235.9" x2="521.6" y2="249.3" stroke="#1a1a1a" stroke-width="1"/>
<line x1="519.4" y1="235.9" x2="523.8000000000001" y2="235.9" stroke="#1a1a1a" stroke-width="1"/>
<line x1="519.4" y1="249.3" x2="523.6" y2="249.3" stroke="#1a1a1a" stroke-width="1"/>
<rect x="519.9" y="240.3" width="3.4" height="3.4" fill="#111"/>
<line x1="346.78" y1="328.16" x2="421.23" y2="273.65" stroke="#ff1a1a" stroke-width="2.5" stroke-dasharray="10,5"/>
<line x1="451.13" y1="265.98" x2="520.89" y2="242.26" stroke="#20ae58" stroke-width="2.5" stroke-dasharray="10,5.9"/>
<text x="385.8" y="322.2" font-size="11.1" font-weight="bold" letter-spacing="0.15" fill="#ff1a1a" stroke="#ff1a1a" stroke-width="0.2"><tspan font-style="italic">y</tspan> = 0.0267<tspan font-style="italic">x</tspan>+1.2051</text>
<text x="385.8" y="334.8" font-size="11.1" font-weight="bold" letter-spacing="0.1" fill="#ff1a1a" stroke="#ff1a1a" stroke-width="0.2"><tspan font-style="italic">R</tspan><tspan font-size="8.21" dy="-2.66">2</tspan><tspan dy="2.66"> = 0.9944</tspan></text>
<text x="443.2" y="289.2" font-size="11.1" font-weight="bold" letter-spacing="0.15" fill="#22ac58" stroke="#22ac58" stroke-width="0.2"><tspan font-style="italic">y</tspan> = 0.0124<tspan font-style="italic">x</tspan>+1.4288</text>
<text x="443.2" y="302.2" font-size="11.1" font-weight="bold" letter-spacing="0.1" fill="#22ac58" stroke="#22ac58" stroke-width="0.2"><tspan font-style="italic">R</tspan><tspan font-size="8.21" dy="-2.66">2</tspan><tspan dy="2.66"> = 0.9944</tspan></text>
<text transform="translate(303.1,293.9) rotate(-90)" font-size="8.9" font-weight="bold" font-style="italic" text-anchor="middle" fill="#111">I<tspan font-size="4.98" dx="0.8" dy="3.38" font-style="normal">468</tspan><tspan dx="0.8" dy="-3.38">/</tspan><tspan dx="0.8">I</tspan><tspan font-size="4.98" dx="0.8" dy="3.38" font-style="normal">610</tspan></text>
<text x="436.2" y="395.9" font-size="8.9" font-weight="bold" text-anchor="middle" letter-spacing="0.4" fill="#111" stroke="#111" stroke-width="0.2">H<tspan font-size="5.52" dy="2.4">2</tspan><tspan dy="-2.4">S concentrations (μM)</tspan></text>
</svg></body></html>
